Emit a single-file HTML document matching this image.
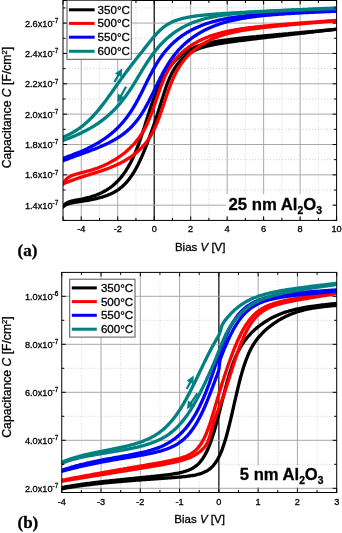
<!DOCTYPE html><html><head><meta charset="utf-8"><style>html,body{margin:0;padding:0;background:#fff;width:342px;height:533px;overflow:hidden}svg{display:block;will-change:transform}text{font-family:"Liberation Sans",sans-serif;stroke:#000;stroke-width:0.3px;paint-order:stroke}</style></head><body>
<svg width="342" height="533" viewBox="0 0 342 533">
<rect width="342" height="533" fill="#fff"/>
<defs><clipPath id="ct"><rect x="63.00" y="0.50" width="273.60" height="219.90"/></clipPath></defs>
<line x1="99.48" y1="0.50" x2="99.48" y2="220.40" stroke="#d0d0d0" stroke-width="1" stroke-dasharray="1,2"/>
<line x1="135.96" y1="0.50" x2="135.96" y2="220.40" stroke="#d0d0d0" stroke-width="1" stroke-dasharray="1,2"/>
<line x1="172.44" y1="0.50" x2="172.44" y2="220.40" stroke="#d0d0d0" stroke-width="1" stroke-dasharray="1,2"/>
<line x1="208.92" y1="0.50" x2="208.92" y2="220.40" stroke="#d0d0d0" stroke-width="1" stroke-dasharray="1,2"/>
<line x1="245.40" y1="0.50" x2="245.40" y2="220.40" stroke="#d0d0d0" stroke-width="1" stroke-dasharray="1,2"/>
<line x1="281.88" y1="0.50" x2="281.88" y2="220.40" stroke="#d0d0d0" stroke-width="1" stroke-dasharray="1,2"/>
<line x1="318.36" y1="0.50" x2="318.36" y2="220.40" stroke="#d0d0d0" stroke-width="1" stroke-dasharray="1,2"/>
<line x1="63.00" y1="220.37" x2="336.60" y2="220.37" stroke="#d0d0d0" stroke-width="1" stroke-dasharray="1,2"/>
<line x1="63.00" y1="190.02" x2="336.60" y2="190.02" stroke="#d0d0d0" stroke-width="1" stroke-dasharray="1,2"/>
<line x1="63.00" y1="159.67" x2="336.60" y2="159.67" stroke="#d0d0d0" stroke-width="1" stroke-dasharray="1,2"/>
<line x1="63.00" y1="129.32" x2="336.60" y2="129.32" stroke="#d0d0d0" stroke-width="1" stroke-dasharray="1,2"/>
<line x1="63.00" y1="98.97" x2="336.60" y2="98.97" stroke="#d0d0d0" stroke-width="1" stroke-dasharray="1,2"/>
<line x1="63.00" y1="68.62" x2="336.60" y2="68.62" stroke="#d0d0d0" stroke-width="1" stroke-dasharray="1,2"/>
<line x1="63.00" y1="38.27" x2="336.60" y2="38.27" stroke="#d0d0d0" stroke-width="1" stroke-dasharray="1,2"/>
<line x1="63.00" y1="7.92" x2="336.60" y2="7.92" stroke="#d0d0d0" stroke-width="1" stroke-dasharray="1,2"/>
<line x1="81.24" y1="0.50" x2="81.24" y2="220.40" stroke="#a8a8a8" stroke-width="1.00"/>
<line x1="117.72" y1="0.50" x2="117.72" y2="220.40" stroke="#a8a8a8" stroke-width="1.00"/>
<line x1="154.20" y1="0.50" x2="154.20" y2="220.40" stroke="#000" stroke-width="1.20"/>
<line x1="190.68" y1="0.50" x2="190.68" y2="220.40" stroke="#a8a8a8" stroke-width="1.00"/>
<line x1="227.16" y1="0.50" x2="227.16" y2="220.40" stroke="#a8a8a8" stroke-width="1.00"/>
<line x1="263.64" y1="0.50" x2="263.64" y2="220.40" stroke="#a8a8a8" stroke-width="1.00"/>
<line x1="300.12" y1="0.50" x2="300.12" y2="220.40" stroke="#a8a8a8" stroke-width="1.00"/>
<line x1="63.00" y1="205.20" x2="336.60" y2="205.20" stroke="#a8a8a8" stroke-width="1"/>
<line x1="63.00" y1="174.85" x2="336.60" y2="174.85" stroke="#a8a8a8" stroke-width="1"/>
<line x1="63.00" y1="144.50" x2="336.60" y2="144.50" stroke="#a8a8a8" stroke-width="1"/>
<line x1="63.00" y1="114.15" x2="336.60" y2="114.15" stroke="#a8a8a8" stroke-width="1"/>
<line x1="63.00" y1="83.80" x2="336.60" y2="83.80" stroke="#a8a8a8" stroke-width="1"/>
<line x1="63.00" y1="53.45" x2="336.60" y2="53.45" stroke="#a8a8a8" stroke-width="1"/>
<line x1="63.00" y1="23.10" x2="336.60" y2="23.10" stroke="#a8a8a8" stroke-width="1"/>
<g clip-path="url(#ct)" fill="none" stroke-width="3.30" stroke-linecap="round" stroke-linejoin="round">
<path d="M63.0,206.8 L63.7,205.7 L64.5,204.7 L65.4,203.8 L66.4,203.1 L67.5,202.5 L68.7,202.0 L69.9,201.6 L71.1,201.2 L72.3,201.0 L73.5,200.7 L74.7,200.5 L75.9,200.2 L77.1,200.0 L78.3,199.8 L79.5,199.5 L80.7,199.3 L81.9,199.1 L83.1,198.8 L84.3,198.5 L85.5,198.2 L86.7,198.0 L87.9,197.6 L89.1,197.3 L90.3,197.0 L91.5,196.6 L92.7,196.2 L93.9,195.9 L95.1,195.4 L96.3,195.0 L97.5,194.5 L98.7,194.0 L99.9,193.5 L101.0,193.0 L102.1,192.5 L103.2,191.9 L104.3,191.3 L105.4,190.7 L106.5,190.1 L107.6,189.4 L108.7,188.7 L109.7,188.0 L110.7,187.2 L111.7,186.5 L112.7,185.7 L113.7,184.8 L114.7,184.0 L115.6,183.1 L116.5,182.3 L117.4,181.4 L118.3,180.4 L119.2,179.4 L120.0,178.5 L120.8,177.6 L121.6,176.6 L122.4,175.6 L123.2,174.5 L124.0,173.4 L124.7,172.4 L125.4,171.4 L126.1,170.3 L126.8,169.2 L127.5,168.1 L128.2,166.9 L128.9,165.7 L129.5,164.7 L130.1,163.6 L130.7,162.4 L131.3,161.3 L131.9,160.1 L132.5,158.8 L133.1,157.6 L133.7,156.2 L134.2,155.1 L134.7,154.0 L135.2,152.8 L135.7,151.6 L136.2,150.4 L136.7,149.2 L137.2,147.9 L137.7,146.6 L138.2,145.3 L138.7,143.9 L139.2,142.5 L139.7,141.1 L140.1,140.0 L140.5,138.8 L140.9,137.7 L141.3,136.5 L141.7,135.3 L142.1,134.1 L142.5,132.9 L142.9,131.6 L143.3,130.4 L143.7,129.1 L144.1,127.9 L144.5,126.6 L144.9,125.4 L145.3,124.1 L145.7,122.8 L146.1,121.5 L146.5,120.3 L146.9,119.0 L147.3,117.7 L147.7,116.5 L148.1,115.2 L148.5,113.9 L148.9,112.7 L149.3,111.4 L149.7,110.2 L150.1,109.0 L150.5,107.8 L150.9,106.6 L151.3,105.4 L151.7,104.2 L152.1,103.1 L152.5,101.9 L153.0,100.5 L153.5,99.1 L154.0,97.8 L154.5,96.4 L155.0,95.1 L155.5,93.8 L156.0,92.6 L156.5,91.3 L157.0,90.1 L157.5,89.0 L158.0,87.8 L158.5,86.7 L159.0,85.6 L159.6,84.3 L160.2,83.0 L160.8,81.8 L161.4,80.6 L162.0,79.5 L162.6,78.3 L163.2,77.2 L163.8,76.2 L164.5,75.0 L165.2,73.8 L165.9,72.7 L166.6,71.6 L167.3,70.5 L168.0,69.5 L168.7,68.5 L169.5,67.4 L170.3,66.3 L171.1,65.3 L171.9,64.3 L172.7,63.3 L173.5,62.4 L174.4,61.4 L175.3,60.5 L176.2,59.6 L177.1,58.7 L178.0,57.9 L178.9,57.1 L179.9,56.2 L180.9,55.4 L181.9,54.6 L182.9,53.9 L183.9,53.2 L184.9,52.5 L186.0,51.8 L187.1,51.1 L188.2,50.5 L189.3,49.9 L190.4,49.3 L191.5,48.8 L192.6,48.3 L193.7,47.8 L194.9,47.3 L196.1,46.8 L197.3,46.3 L198.5,45.9 L199.7,45.5 L200.9,45.1 L202.1,44.7 L203.3,44.4 L204.5,44.1 L205.7,43.7 L206.9,43.4 L208.1,43.2 L209.3,42.9 L210.5,42.6 L211.7,42.4 L212.9,42.1 L214.1,41.9 L215.3,41.7 L216.5,41.5 L217.7,41.2 L218.9,41.0 L220.1,40.9 L221.3,40.7 L222.5,40.5 L223.7,40.3 L224.9,40.1 L226.1,40.0 L227.3,39.8 L228.5,39.7 L229.7,39.5 L230.9,39.3 L232.1,39.2 L233.3,39.1 L234.5,38.9 L235.7,38.8 L236.9,38.6 L238.1,38.5 L239.3,38.4 L240.5,38.2 L241.7,38.1 L242.9,38.0 L244.1,37.9 L245.3,37.7 L246.5,37.6 L247.7,37.5 L248.9,37.4 L250.1,37.2 L251.3,37.1 L252.5,37.0 L253.7,36.9 L254.9,36.8 L256.1,36.7 L257.3,36.5 L258.5,36.4 L259.7,36.3 L260.9,36.2 L262.1,36.1 L263.3,36.0 L264.5,35.9 L265.7,35.7 L266.9,35.6 L268.1,35.5 L269.3,35.4 L270.5,35.3 L271.7,35.2 L272.9,35.1 L274.1,35.0 L275.3,34.9 L276.5,34.7 L277.7,34.6 L278.9,34.5 L280.1,34.4 L281.3,34.3 L282.5,34.2 L283.7,34.1 L284.9,34.0 L286.1,33.9 L287.3,33.8 L288.5,33.7 L289.7,33.5 L290.9,33.4 L292.1,33.3 L293.3,33.2 L294.5,33.1 L295.7,33.0 L296.9,32.9 L298.1,32.8 L299.3,32.7 L300.5,32.6 L301.7,32.5 L302.9,32.4 L304.1,32.2 L305.3,32.1 L306.5,32.0 L307.7,31.9 L308.9,31.8 L310.1,31.7 L311.3,31.6 L312.5,31.5 L313.7,31.4 L314.9,31.3 L316.1,31.2 L317.3,31.1 L318.5,31.0 L319.7,30.8 L320.9,30.7 L322.1,30.6 L323.3,30.5 L324.5,30.4 L325.7,30.3 L326.9,30.2 L328.1,30.1 L329.3,30.0 L330.5,29.9 L331.7,29.8 L332.9,29.7 L334.1,29.6 L335.3,29.4 L336.5,29.3 L336.9,29.3" stroke="#000000"/>
<path d="M63.0,206.8 L64.0,205.9 L65.0,205.3 L66.1,204.7 L67.3,204.2 L68.5,203.7 L69.7,203.4 L70.9,203.1 L72.1,202.8 L73.3,202.6 L74.5,202.4 L75.7,202.2 L76.9,202.0 L78.1,201.8 L79.3,201.6 L80.5,201.4 L81.7,201.3 L82.9,201.1 L84.1,200.9 L85.3,200.7 L86.5,200.5 L87.7,200.3 L88.9,200.0 L90.1,199.8 L91.3,199.6 L92.5,199.4 L93.7,199.1 L94.9,198.9 L96.1,198.6 L97.3,198.3 L98.5,198.0 L99.7,197.7 L100.9,197.4 L102.1,197.1 L103.3,196.7 L104.5,196.3 L105.7,195.9 L106.9,195.5 L108.1,195.0 L109.3,194.5 L110.5,194.0 L111.6,193.5 L112.7,193.0 L113.8,192.4 L114.9,191.8 L116.0,191.1 L117.1,190.4 L118.1,189.8 L119.1,189.1 L120.1,188.3 L121.1,187.5 L122.1,186.7 L123.0,185.8 L123.9,185.0 L124.8,184.1 L125.7,183.2 L126.6,182.2 L127.4,181.3 L128.2,180.3 L129.0,179.3 L129.8,178.2 L130.6,177.1 L131.3,176.1 L132.0,175.1 L132.7,174.0 L133.4,172.9 L134.1,171.8 L134.8,170.6 L135.4,169.5 L136.0,168.5 L136.6,167.4 L137.2,166.2 L137.8,165.1 L138.4,163.9 L139.0,162.6 L139.6,161.4 L140.2,160.1 L140.8,158.8 L141.3,157.7 L141.8,156.6 L142.3,155.4 L142.8,154.3 L143.3,153.1 L143.8,151.9 L144.3,150.7 L144.8,149.4 L145.3,148.2 L145.8,146.9 L146.3,145.6 L146.8,144.3 L147.3,143.0 L147.8,141.7 L148.3,140.4 L148.8,139.0 L149.3,137.7 L149.8,136.3 L150.3,134.9 L150.8,133.5 L151.3,132.1 L151.8,130.7 L152.2,129.6 L152.6,128.4 L153.0,127.3 L153.4,126.1 L153.8,124.9 L154.2,123.8 L154.6,122.6 L155.0,121.4 L155.4,120.2 L155.8,119.0 L156.2,117.8 L156.6,116.6 L157.0,115.4 L157.4,114.1 L157.8,112.9 L158.2,111.6 L158.6,110.4 L159.0,109.1 L159.4,107.9 L159.8,106.6 L160.2,105.3 L160.6,104.0 L161.0,102.8 L161.4,101.5 L161.8,100.2 L162.2,98.9 L162.6,97.6 L163.0,96.4 L163.4,95.1 L163.8,93.9 L164.2,92.6 L164.6,91.4 L165.0,90.2 L165.4,89.0 L165.8,87.8 L166.2,86.7 L166.7,85.3 L167.2,84.0 L167.7,82.7 L168.2,81.4 L168.7,80.2 L169.2,79.0 L169.7,77.8 L170.2,76.7 L170.8,75.4 L171.4,74.2 L172.0,73.0 L172.6,71.9 L173.2,70.8 L173.9,69.6 L174.6,68.5 L175.3,67.4 L176.0,66.4 L176.7,65.4 L177.5,64.3 L178.3,63.3 L179.1,62.3 L179.9,61.4 L180.8,60.4 L181.7,59.5 L182.6,58.6 L183.5,57.8 L184.5,56.9 L185.5,56.1 L186.5,55.3 L187.5,54.5 L188.5,53.9 L189.6,53.1 L190.7,52.5 L191.8,51.9 L192.9,51.3 L194.0,50.7 L195.1,50.2 L196.2,49.7 L197.4,49.2 L198.6,48.7 L199.8,48.3 L201.0,47.9 L202.2,47.5 L203.4,47.1 L204.6,46.8 L205.8,46.5 L207.0,46.1 L208.2,45.8 L209.4,45.6 L210.6,45.3 L211.8,45.0 L213.0,44.8 L214.2,44.5 L215.4,44.3 L216.6,44.1 L217.8,43.9 L219.0,43.7 L220.2,43.5 L221.4,43.3 L222.6,43.1 L223.8,42.9 L225.0,42.7 L226.2,42.5 L227.4,42.3 L228.6,42.2 L229.8,42.0 L231.0,41.8 L232.2,41.7 L233.4,41.5 L234.6,41.3 L235.8,41.2 L237.0,41.0 L238.2,40.9 L239.4,40.7 L240.6,40.6 L241.8,40.4 L243.0,40.3 L244.2,40.1 L245.4,40.0 L246.6,39.8 L247.8,39.7 L249.0,39.5 L250.2,39.4 L251.4,39.2 L252.6,39.1 L253.8,38.9 L255.0,38.8 L256.2,38.6 L257.4,38.5 L258.6,38.4 L259.8,38.2 L261.0,38.1 L262.2,37.9 L263.4,37.8 L264.6,37.6 L265.8,37.5 L267.0,37.4 L268.2,37.2 L269.4,37.1 L270.6,36.9 L271.8,36.8 L273.0,36.6 L274.2,36.5 L275.4,36.4 L276.6,36.2 L277.8,36.1 L279.0,35.9 L280.2,35.8 L281.4,35.6 L282.6,35.5 L283.8,35.4 L285.0,35.2 L286.2,35.1 L287.4,34.9 L288.6,34.8 L289.8,34.7 L291.0,34.5 L292.2,34.4 L293.4,34.2 L294.6,34.1 L295.8,33.9 L297.0,33.8 L298.2,33.7 L299.4,33.5 L300.6,33.4 L301.8,33.2 L303.0,33.1 L304.2,33.0 L305.4,32.8 L306.6,32.7 L307.8,32.5 L309.0,32.4 L310.2,32.2 L311.4,32.1 L312.6,32.0 L313.8,31.8 L315.0,31.7 L316.2,31.5 L317.4,31.4 L318.6,31.3 L319.8,31.1 L321.0,31.0 L322.2,30.8 L323.4,30.7 L324.6,30.6 L325.8,30.4 L327.0,30.3 L328.2,30.1 L329.4,30.0 L330.6,29.8 L331.8,29.7 L333.0,29.6 L334.2,29.4 L335.4,29.3 L336.6,29.1 L336.9,29.1" stroke="#000000"/>
<path d="M63.0,184.2 L63.6,183.0 L64.3,181.9 L65.0,180.9 L65.8,179.9 L66.7,178.9 L67.6,178.1 L68.6,177.4 L69.7,176.7 L70.8,176.1 L71.9,175.6 L73.1,175.1 L74.3,174.7 L75.5,174.3 L76.7,174.0 L77.9,173.7 L79.1,173.3 L80.3,173.0 L81.5,172.7 L82.7,172.4 L83.9,172.1 L85.1,171.8 L86.3,171.5 L87.5,171.2 L88.7,170.8 L89.9,170.5 L91.1,170.1 L92.3,169.8 L93.5,169.4 L94.7,169.0 L95.9,168.6 L97.1,168.2 L98.3,167.7 L99.5,167.3 L100.7,166.8 L101.9,166.3 L103.1,165.8 L104.2,165.3 L105.3,164.8 L106.4,164.3 L107.5,163.8 L108.6,163.2 L109.7,162.6 L110.8,162.1 L111.9,161.4 L113.0,160.8 L114.1,160.2 L115.2,159.5 L116.3,158.8 L117.4,158.1 L118.4,157.4 L119.4,156.7 L120.4,156.0 L121.4,155.3 L122.4,154.5 L123.4,153.8 L124.4,153.0 L125.4,152.2 L126.4,151.3 L127.4,150.4 L128.3,149.6 L129.2,148.8 L130.1,147.9 L131.0,147.1 L131.9,146.2 L132.8,145.2 L133.7,144.3 L134.6,143.3 L135.4,142.4 L136.2,141.4 L137.0,140.4 L137.8,139.4 L138.6,138.4 L139.4,137.3 L140.1,136.3 L140.8,135.2 L141.5,134.2 L142.2,133.1 L142.9,131.9 L143.6,130.7 L144.2,129.7 L144.8,128.6 L145.4,127.4 L146.0,126.2 L146.6,125.0 L147.2,123.7 L147.8,122.4 L148.3,121.3 L148.8,120.1 L149.3,119.0 L149.8,117.7 L150.3,116.5 L150.8,115.2 L151.3,113.9 L151.8,112.6 L152.3,111.2 L152.8,109.8 L153.3,108.4 L153.7,107.3 L154.1,106.2 L154.5,105.0 L154.9,103.8 L155.3,102.7 L155.7,101.5 L156.1,100.3 L156.5,99.1 L156.9,97.9 L157.3,96.8 L157.7,95.6 L158.1,94.4 L158.5,93.3 L158.9,92.1 L159.3,91.0 L159.7,89.8 L160.2,88.4 L160.7,87.0 L161.2,85.7 L161.7,84.4 L162.2,83.1 L162.7,81.8 L163.2,80.6 L163.7,79.4 L164.2,78.2 L164.7,77.0 L165.2,75.9 L165.8,74.6 L166.4,73.4 L167.0,72.2 L167.6,71.0 L168.2,69.9 L168.8,68.8 L169.5,67.6 L170.2,66.5 L170.9,65.4 L171.6,64.3 L172.3,63.3 L173.1,62.2 L173.9,61.1 L174.7,60.1 L175.5,59.2 L176.3,58.2 L177.1,57.3 L178.0,56.4 L178.9,55.4 L179.8,54.5 L180.7,53.7 L181.6,52.8 L182.5,52.0 L183.5,51.2 L184.5,50.3 L185.5,49.5 L186.5,48.8 L187.5,48.0 L188.5,47.3 L189.5,46.6 L190.5,45.9 L191.6,45.2 L192.7,44.5 L193.8,43.8 L194.9,43.2 L196.0,42.6 L197.1,42.0 L198.2,41.4 L199.3,40.8 L200.4,40.3 L201.5,39.7 L202.6,39.2 L203.7,38.7 L204.9,38.2 L206.1,37.7 L207.3,37.2 L208.5,36.8 L209.7,36.3 L210.9,35.9 L212.1,35.5 L213.3,35.1 L214.5,34.7 L215.7,34.3 L216.9,34.0 L218.1,33.6 L219.3,33.3 L220.5,33.0 L221.7,32.7 L222.9,32.4 L224.1,32.1 L225.3,31.8 L226.5,31.5 L227.7,31.3 L228.9,31.0 L230.1,30.8 L231.3,30.5 L232.5,30.3 L233.7,30.1 L234.9,29.9 L236.1,29.7 L237.3,29.5 L238.5,29.3 L239.7,29.1 L240.9,28.9 L242.1,28.7 L243.3,28.6 L244.5,28.4 L245.7,28.2 L246.9,28.1 L248.1,27.9 L249.3,27.7 L250.5,27.6 L251.7,27.5 L252.9,27.3 L254.1,27.2 L255.3,27.0 L256.5,26.9 L257.7,26.8 L258.9,26.6 L260.1,26.5 L261.3,26.4 L262.5,26.3 L263.7,26.1 L264.9,26.0 L266.1,25.9 L267.3,25.8 L268.5,25.7 L269.7,25.6 L270.9,25.5 L272.1,25.3 L273.3,25.2 L274.5,25.1 L275.7,25.0 L276.9,24.9 L278.1,24.8 L279.3,24.7 L280.5,24.6 L281.7,24.5 L282.9,24.4 L284.1,24.3 L285.3,24.2 L286.5,24.1 L287.7,24.0 L288.9,23.9 L290.1,23.8 L291.3,23.8 L292.5,23.7 L293.7,23.6 L294.9,23.5 L296.1,23.4 L297.3,23.3 L298.5,23.2 L299.7,23.1 L300.9,23.0 L302.1,22.9 L303.3,22.8 L304.5,22.8 L305.7,22.7 L306.9,22.6 L308.1,22.5 L309.3,22.4 L310.5,22.3 L311.7,22.2 L312.9,22.1 L314.1,22.1 L315.3,22.0 L316.5,21.9 L317.7,21.8 L318.9,21.7 L320.1,21.6 L321.3,21.5 L322.5,21.4 L323.7,21.4 L324.9,21.3 L326.1,21.2 L327.3,21.1 L328.5,21.0 L329.7,20.9 L330.9,20.9 L332.1,20.8 L333.3,20.7 L334.5,20.6 L335.7,20.5 L336.9,20.4" stroke="#ff0000"/>
<path d="M63.0,183.9 L64.2,183.3 L65.4,182.8 L66.6,182.4 L67.8,181.9 L69.0,181.4 L70.2,181.0 L71.4,180.5 L72.6,180.1 L73.8,179.7 L75.0,179.2 L76.2,178.8 L77.4,178.4 L78.6,178.0 L79.8,177.6 L81.0,177.2 L82.2,176.9 L83.4,176.5 L84.6,176.1 L85.8,175.7 L87.0,175.3 L88.2,175.0 L89.4,174.6 L90.6,174.2 L91.8,173.9 L93.0,173.5 L94.2,173.1 L95.4,172.7 L96.6,172.3 L97.8,172.0 L99.0,171.6 L100.2,171.2 L101.4,170.8 L102.6,170.4 L103.8,170.0 L105.0,169.5 L106.2,169.1 L107.4,168.7 L108.6,168.2 L109.8,167.8 L111.0,167.3 L112.2,166.8 L113.4,166.3 L114.6,165.8 L115.7,165.3 L116.8,164.8 L117.9,164.3 L119.0,163.7 L120.1,163.2 L121.2,162.6 L122.3,162.1 L123.4,161.5 L124.5,160.8 L125.6,160.2 L126.7,159.5 L127.8,158.8 L128.9,158.1 L129.9,157.5 L130.9,156.8 L131.9,156.1 L132.9,155.3 L133.9,154.6 L134.9,153.8 L135.9,153.0 L136.9,152.1 L137.9,151.3 L138.8,150.4 L139.7,149.6 L140.6,148.7 L141.5,147.8 L142.4,146.8 L143.3,145.9 L144.1,144.9 L144.9,144.0 L145.7,143.0 L146.5,142.0 L147.3,140.9 L148.0,139.9 L148.7,138.9 L149.4,137.8 L150.1,136.7 L150.8,135.6 L151.5,134.4 L152.1,133.3 L152.7,132.2 L153.3,131.0 L153.9,129.8 L154.5,128.6 L155.1,127.3 L155.6,126.2 L156.1,125.1 L156.6,123.9 L157.1,122.7 L157.6,121.5 L158.1,120.2 L158.6,118.9 L159.1,117.6 L159.6,116.2 L160.1,114.8 L160.6,113.4 L161.0,112.3 L161.4,111.1 L161.8,110.0 L162.2,108.8 L162.6,107.6 L163.0,106.4 L163.4,105.2 L163.8,104.0 L164.2,102.8 L164.6,101.6 L165.0,100.4 L165.4,99.2 L165.8,98.0 L166.2,96.8 L166.6,95.6 L167.0,94.4 L167.4,93.3 L167.8,92.1 L168.2,91.0 L168.7,89.6 L169.2,88.2 L169.7,86.9 L170.2,85.5 L170.7,84.3 L171.2,83.0 L171.7,81.8 L172.2,80.6 L172.7,79.4 L173.2,78.2 L173.7,77.1 L174.3,75.9 L174.9,74.6 L175.5,73.4 L176.1,72.3 L176.7,71.1 L177.3,70.1 L177.9,69.0 L178.6,67.9 L179.3,66.7 L180.0,65.7 L180.7,64.6 L181.4,63.6 L182.2,62.5 L183.0,61.5 L183.8,60.5 L184.6,59.5 L185.4,58.5 L186.2,57.6 L187.1,56.6 L188.0,55.7 L188.9,54.8 L189.8,53.9 L190.7,53.1 L191.6,52.2 L192.5,51.4 L193.5,50.6 L194.5,49.8 L195.5,49.0 L196.5,48.2 L197.5,47.5 L198.5,46.7 L199.5,46.0 L200.5,45.4 L201.6,44.7 L202.7,44.0 L203.8,43.3 L204.9,42.7 L206.0,42.1 L207.1,41.5 L208.2,40.9 L209.3,40.4 L210.4,39.8 L211.5,39.3 L212.6,38.8 L213.8,38.3 L215.0,37.8 L216.2,37.4 L217.4,36.9 L218.6,36.5 L219.8,36.0 L221.0,35.6 L222.2,35.2 L223.4,34.9 L224.6,34.5 L225.8,34.2 L227.0,33.8 L228.2,33.5 L229.4,33.2 L230.6,32.9 L231.8,32.6 L233.0,32.3 L234.2,32.1 L235.4,31.8 L236.6,31.6 L237.8,31.3 L239.0,31.1 L240.2,30.9 L241.4,30.7 L242.6,30.4 L243.8,30.2 L245.0,30.0 L246.2,29.8 L247.4,29.7 L248.6,29.5 L249.8,29.3 L251.0,29.1 L252.2,28.9 L253.4,28.8 L254.6,28.6 L255.8,28.5 L257.0,28.3 L258.2,28.1 L259.4,28.0 L260.6,27.8 L261.8,27.7 L263.0,27.6 L264.2,27.4 L265.4,27.3 L266.6,27.1 L267.8,27.0 L269.0,26.9 L270.2,26.8 L271.4,26.6 L272.6,26.5 L273.8,26.4 L275.0,26.3 L276.2,26.1 L277.4,26.0 L278.6,25.9 L279.8,25.8 L281.0,25.7 L282.2,25.5 L283.4,25.4 L284.6,25.3 L285.8,25.2 L287.0,25.1 L288.2,25.0 L289.4,24.9 L290.6,24.7 L291.8,24.6 L293.0,24.5 L294.2,24.4 L295.4,24.3 L296.6,24.2 L297.8,24.1 L299.0,24.0 L300.2,23.9 L301.4,23.8 L302.6,23.7 L303.8,23.6 L305.0,23.4 L306.2,23.3 L307.4,23.2 L308.6,23.1 L309.8,23.0 L311.0,22.9 L312.2,22.8 L313.4,22.7 L314.6,22.6 L315.8,22.5 L317.0,22.4 L318.2,22.3 L319.4,22.2 L320.6,22.1 L321.8,22.0 L323.0,21.9 L324.2,21.8 L325.4,21.7 L326.6,21.6 L327.8,21.5 L329.0,21.4 L330.2,21.3 L331.4,21.2 L332.6,21.1 L333.8,21.0 L335.0,20.9 L336.2,20.8 L336.9,20.7" stroke="#ff0000"/>
<path d="M63.0,158.4 L64.2,157.9 L65.4,157.5 L66.6,157.0 L67.8,156.6 L69.0,156.1 L70.2,155.7 L71.4,155.2 L72.6,154.8 L73.8,154.3 L75.0,153.8 L76.2,153.3 L77.4,152.9 L78.6,152.4 L79.8,151.9 L81.0,151.4 L82.2,150.9 L83.3,150.4 L84.4,149.9 L85.5,149.4 L86.6,148.9 L87.7,148.4 L88.8,147.8 L89.9,147.3 L91.0,146.7 L92.1,146.2 L93.2,145.6 L94.3,145.0 L95.4,144.4 L96.5,143.8 L97.6,143.1 L98.7,142.5 L99.8,141.8 L100.9,141.1 L102.0,140.4 L103.1,139.7 L104.1,139.0 L105.1,138.3 L106.1,137.6 L107.1,136.9 L108.1,136.1 L109.1,135.4 L110.1,134.6 L111.1,133.8 L112.1,132.9 L113.1,132.1 L114.1,131.2 L115.0,130.4 L115.9,129.5 L116.8,128.7 L117.7,127.8 L118.6,126.9 L119.5,126.0 L120.4,125.0 L121.3,124.0 L122.1,123.1 L122.9,122.2 L123.7,121.3 L124.5,120.3 L125.3,119.3 L126.1,118.3 L126.9,117.2 L127.7,116.1 L128.5,115.0 L129.2,114.0 L129.9,113.0 L130.6,112.0 L131.3,110.9 L132.0,109.8 L132.7,108.7 L133.4,107.5 L134.1,106.4 L134.8,105.2 L135.4,104.1 L136.0,103.1 L136.6,102.0 L137.2,100.9 L137.8,99.8 L138.4,98.7 L139.0,97.5 L139.6,96.4 L140.2,95.2 L140.8,94.1 L141.4,92.9 L142.0,91.7 L142.6,90.5 L143.2,89.3 L143.8,88.1 L144.4,86.9 L145.0,85.6 L145.6,84.4 L146.2,83.2 L146.8,82.0 L147.4,80.8 L148.0,79.6 L148.6,78.4 L149.2,77.2 L149.8,76.0 L150.4,74.9 L151.0,73.7 L151.6,72.6 L152.2,71.4 L152.8,70.3 L153.4,69.2 L154.0,68.2 L154.6,67.1 L155.2,66.1 L155.9,64.9 L156.6,63.7 L157.3,62.6 L158.0,61.4 L158.7,60.4 L159.4,59.3 L160.1,58.3 L160.8,57.2 L161.5,56.2 L162.3,55.1 L163.1,54.1 L163.9,53.0 L164.7,52.0 L165.5,51.0 L166.3,50.1 L167.1,49.2 L167.9,48.3 L168.8,47.3 L169.7,46.3 L170.6,45.4 L171.5,44.5 L172.4,43.7 L173.3,42.8 L174.2,42.0 L175.2,41.1 L176.2,40.3 L177.2,39.4 L178.2,38.6 L179.2,37.9 L180.2,37.1 L181.2,36.4 L182.2,35.7 L183.2,35.0 L184.2,34.3 L185.3,33.6 L186.4,32.9 L187.5,32.3 L188.6,31.6 L189.7,31.0 L190.8,30.4 L191.9,29.8 L193.0,29.3 L194.1,28.7 L195.2,28.2 L196.3,27.7 L197.4,27.2 L198.6,26.7 L199.8,26.2 L201.0,25.7 L202.2,25.2 L203.4,24.8 L204.6,24.3 L205.8,23.9 L207.0,23.5 L208.2,23.1 L209.4,22.7 L210.6,22.4 L211.8,22.0 L213.0,21.7 L214.2,21.4 L215.4,21.1 L216.6,20.7 L217.8,20.5 L219.0,20.2 L220.2,19.9 L221.4,19.6 L222.6,19.4 L223.8,19.1 L225.0,18.9 L226.2,18.7 L227.4,18.4 L228.6,18.2 L229.8,18.0 L231.0,17.8 L232.2,17.6 L233.4,17.5 L234.6,17.3 L235.8,17.1 L237.0,16.9 L238.2,16.8 L239.4,16.6 L240.6,16.5 L241.8,16.3 L243.0,16.2 L244.2,16.0 L245.4,15.9 L246.6,15.7 L247.8,15.6 L249.0,15.5 L250.2,15.4 L251.4,15.3 L252.6,15.1 L253.8,15.0 L255.0,14.9 L256.2,14.8 L257.4,14.7 L258.6,14.6 L259.8,14.5 L261.0,14.4 L262.2,14.3 L263.4,14.2 L264.6,14.1 L265.8,14.1 L267.0,14.0 L268.2,13.9 L269.4,13.8 L270.6,13.7 L271.8,13.6 L273.0,13.6 L274.2,13.5 L275.4,13.4 L276.6,13.3 L277.8,13.3 L279.0,13.2 L280.2,13.1 L281.4,13.1 L282.6,13.0 L283.8,12.9 L285.0,12.9 L286.2,12.8 L287.4,12.7 L288.6,12.7 L289.8,12.6 L291.0,12.5 L292.2,12.5 L293.4,12.4 L294.6,12.4 L295.8,12.3 L297.0,12.2 L298.2,12.2 L299.4,12.1 L300.6,12.1 L301.8,12.0 L303.0,12.0 L304.2,11.9 L305.4,11.9 L306.6,11.8 L307.8,11.7 L309.0,11.7 L310.2,11.6 L311.4,11.6 L312.6,11.5 L313.8,11.5 L315.0,11.4 L316.2,11.4 L317.4,11.3 L318.6,11.3 L319.8,11.2 L321.0,11.2 L322.2,11.1 L323.4,11.1 L324.6,11.0 L325.8,11.0 L327.0,10.9 L328.2,10.9 L329.4,10.8 L330.6,10.8 L331.8,10.7 L333.0,10.7 L334.2,10.6 L335.4,10.6 L336.6,10.5 L336.9,10.5" stroke="#0000ff"/>
<path d="M63.0,160.8 L64.2,160.3 L65.4,159.8 L66.6,159.4 L67.8,158.9 L69.0,158.4 L70.2,158.0 L71.4,157.5 L72.6,157.1 L73.8,156.7 L75.0,156.2 L76.2,155.8 L77.4,155.4 L78.6,154.9 L79.8,154.5 L81.0,154.1 L82.2,153.6 L83.4,153.2 L84.6,152.8 L85.8,152.3 L87.0,151.9 L88.2,151.4 L89.4,151.0 L90.6,150.6 L91.8,150.1 L93.0,149.6 L94.2,149.2 L95.4,148.7 L96.6,148.2 L97.8,147.8 L99.0,147.3 L100.2,146.8 L101.4,146.2 L102.6,145.7 L103.7,145.2 L104.8,144.7 L105.9,144.2 L107.0,143.7 L108.1,143.2 L109.2,142.6 L110.3,142.1 L111.4,141.5 L112.5,140.9 L113.6,140.3 L114.7,139.7 L115.8,139.0 L116.9,138.4 L118.0,137.7 L119.1,137.0 L120.1,136.3 L121.1,135.6 L122.1,134.9 L123.1,134.2 L124.1,133.4 L125.1,132.6 L126.1,131.8 L127.1,130.9 L128.1,130.1 L129.0,129.2 L129.9,128.4 L130.8,127.5 L131.7,126.6 L132.6,125.6 L133.5,124.6 L134.3,123.7 L135.1,122.8 L135.9,121.8 L136.7,120.8 L137.5,119.8 L138.3,118.7 L139.1,117.6 L139.8,116.6 L140.5,115.5 L141.2,114.5 L141.9,113.4 L142.6,112.3 L143.3,111.1 L144.0,110.0 L144.7,108.8 L145.3,107.7 L145.9,106.7 L146.5,105.6 L147.1,104.5 L147.7,103.4 L148.3,102.2 L148.9,101.1 L149.5,99.9 L150.1,98.7 L150.7,97.5 L151.3,96.3 L151.9,95.1 L152.5,93.9 L153.1,92.7 L153.7,91.4 L154.3,90.2 L154.9,89.0 L155.5,87.7 L156.1,86.5 L156.7,85.3 L157.3,84.0 L157.9,82.8 L158.5,81.6 L159.1,80.4 L159.7,79.2 L160.3,78.0 L160.9,76.8 L161.5,75.7 L162.1,74.5 L162.7,73.4 L163.3,72.3 L163.9,71.2 L164.5,70.1 L165.1,69.1 L165.7,68.0 L166.4,66.8 L167.1,65.7 L167.8,64.5 L168.5,63.4 L169.2,62.3 L169.9,61.3 L170.6,60.2 L171.3,59.2 L172.0,58.2 L172.8,57.1 L173.6,56.1 L174.4,55.0 L175.2,54.0 L176.0,53.0 L176.8,52.1 L177.6,51.1 L178.4,50.2 L179.3,49.2 L180.2,48.3 L181.1,47.4 L182.0,46.5 L182.9,45.6 L183.8,44.7 L184.7,43.9 L185.6,43.1 L186.6,42.2 L187.6,41.4 L188.6,40.6 L189.6,39.8 L190.6,39.0 L191.6,38.3 L192.6,37.5 L193.6,36.8 L194.6,36.1 L195.6,35.5 L196.7,34.8 L197.8,34.1 L198.9,33.4 L200.0,32.8 L201.1,32.1 L202.2,31.5 L203.3,30.9 L204.4,30.3 L205.5,29.8 L206.6,29.2 L207.7,28.7 L208.8,28.2 L209.9,27.7 L211.1,27.2 L212.3,26.7 L213.5,26.2 L214.7,25.7 L215.9,25.3 L217.1,24.9 L218.3,24.4 L219.5,24.0 L220.7,23.6 L221.9,23.2 L223.1,22.9 L224.3,22.5 L225.5,22.2 L226.7,21.8 L227.9,21.5 L229.1,21.2 L230.3,20.9 L231.5,20.6 L232.7,20.3 L233.9,20.1 L235.1,19.8 L236.3,19.6 L237.5,19.3 L238.7,19.1 L239.9,18.8 L241.1,18.6 L242.3,18.4 L243.5,18.2 L244.7,18.0 L245.9,17.8 L247.1,17.6 L248.3,17.4 L249.5,17.3 L250.7,17.1 L251.9,16.9 L253.1,16.8 L254.3,16.6 L255.5,16.5 L256.7,16.3 L257.9,16.2 L259.1,16.1 L260.3,15.9 L261.5,15.8 L262.7,15.7 L263.9,15.5 L265.1,15.4 L266.3,15.3 L267.5,15.2 L268.7,15.1 L269.9,15.0 L271.1,14.9 L272.3,14.8 L273.5,14.7 L274.7,14.6 L275.9,14.5 L277.1,14.4 L278.3,14.3 L279.5,14.2 L280.7,14.1 L281.9,14.0 L283.1,14.0 L284.3,13.9 L285.5,13.8 L286.7,13.7 L287.9,13.6 L289.1,13.6 L290.3,13.5 L291.5,13.4 L292.7,13.3 L293.9,13.3 L295.1,13.2 L296.3,13.1 L297.5,13.1 L298.7,13.0 L299.9,12.9 L301.1,12.9 L302.3,12.8 L303.5,12.7 L304.7,12.7 L305.9,12.6 L307.1,12.6 L308.3,12.5 L309.5,12.4 L310.7,12.4 L311.9,12.3 L313.1,12.3 L314.3,12.2 L315.5,12.2 L316.7,12.1 L317.9,12.0 L319.1,12.0 L320.3,11.9 L321.5,11.9 L322.7,11.8 L323.9,11.8 L325.1,11.7 L326.3,11.7 L327.5,11.6 L328.7,11.6 L329.9,11.5 L331.1,11.4 L332.3,11.4 L333.5,11.3 L334.7,11.3 L335.9,11.2 L336.9,11.2" stroke="#0000ff"/>
<path d="M63.0,137.5 L64.0,136.7 L65.1,136.2 L66.3,135.7 L67.4,135.2 L68.5,134.7 L69.6,134.2 L70.7,133.6 L71.8,133.0 L72.9,132.4 L74.0,131.8 L75.1,131.1 L76.2,130.4 L77.3,129.7 L78.3,129.0 L79.3,128.3 L80.3,127.6 L81.3,126.8 L82.3,126.1 L83.3,125.3 L84.3,124.5 L85.3,123.6 L86.3,122.7 L87.2,121.9 L88.1,121.1 L89.0,120.2 L89.9,119.3 L90.8,118.4 L91.7,117.5 L92.6,116.6 L93.5,115.6 L94.4,114.6 L95.3,113.6 L96.1,112.7 L96.9,111.8 L97.7,110.8 L98.5,109.9 L99.3,108.9 L100.1,107.9 L100.9,106.9 L101.7,105.9 L102.5,104.9 L103.3,103.9 L104.1,102.8 L104.9,101.7 L105.7,100.7 L106.5,99.6 L107.3,98.5 L108.1,97.4 L108.9,96.3 L109.7,95.2 L110.4,94.2 L111.1,93.2 L111.8,92.3 L112.5,91.3 L113.2,90.3 L113.9,89.3 L114.6,88.3 L115.3,87.3 L116.0,86.3 L116.7,85.3 L117.4,84.3 L118.1,83.3 L118.8,82.4 L119.5,81.4 L120.2,80.4 L120.9,79.4 L121.6,78.4 L122.4,77.3 L123.2,76.2 L124.0,75.1 L124.8,74.0 L125.6,72.9 L126.4,71.8 L127.2,70.8 L128.0,69.7 L128.8,68.6 L129.6,67.6 L130.4,66.5 L131.2,65.5 L132.0,64.4 L132.8,63.4 L133.6,62.4 L134.4,61.3 L135.2,60.3 L136.0,59.3 L136.8,58.3 L137.6,57.2 L138.4,56.2 L139.2,55.2 L140.0,54.2 L140.8,53.2 L141.6,52.2 L142.4,51.2 L143.2,50.1 L144.0,49.1 L144.8,48.1 L145.6,47.1 L146.4,46.1 L147.2,45.1 L148.0,44.0 L148.8,43.0 L149.6,42.0 L150.4,41.0 L151.2,40.0 L152.0,39.1 L152.8,38.1 L153.6,37.1 L154.4,36.2 L155.2,35.3 L156.1,34.3 L157.0,33.3 L157.9,32.4 L158.8,31.5 L159.7,30.6 L160.6,29.8 L161.5,29.0 L162.5,28.1 L163.5,27.3 L164.5,26.5 L165.5,25.8 L166.5,25.1 L167.6,24.4 L168.7,23.8 L169.8,23.2 L170.9,22.6 L172.0,22.1 L173.1,21.6 L174.3,21.1 L175.5,20.6 L176.7,20.2 L177.9,19.8 L179.1,19.4 L180.3,19.1 L181.5,18.7 L182.7,18.4 L183.9,18.1 L185.1,17.9 L186.3,17.6 L187.5,17.4 L188.7,17.2 L189.9,17.0 L191.1,16.7 L192.3,16.6 L193.5,16.4 L194.7,16.2 L195.9,16.0 L197.1,15.9 L198.3,15.7 L199.5,15.6 L200.7,15.4 L201.9,15.3 L203.1,15.2 L204.3,15.1 L205.5,14.9 L206.7,14.8 L207.9,14.7 L209.1,14.6 L210.3,14.5 L211.5,14.4 L212.7,14.3 L213.9,14.2 L215.1,14.1 L216.3,14.0 L217.5,13.9 L218.7,13.8 L219.9,13.8 L221.1,13.7 L222.3,13.6 L223.5,13.5 L224.7,13.4 L225.9,13.4 L227.1,13.3 L228.3,13.2 L229.5,13.1 L230.7,13.1 L231.9,13.0 L233.1,12.9 L234.3,12.9 L235.5,12.8 L236.7,12.7 L237.9,12.7 L239.1,12.6 L240.3,12.5 L241.5,12.5 L242.7,12.4 L243.9,12.3 L245.1,12.3 L246.3,12.2 L247.5,12.1 L248.7,12.1 L249.9,12.0 L251.1,12.0 L252.3,11.9 L253.5,11.8 L254.7,11.8 L255.9,11.7 L257.1,11.7 L258.3,11.6 L259.5,11.5 L260.7,11.5 L261.9,11.4 L263.1,11.4 L264.3,11.3 L265.5,11.3 L266.7,11.2 L267.9,11.1 L269.1,11.1 L270.3,11.0 L271.5,11.0 L272.7,10.9 L273.9,10.9 L275.1,10.8 L276.3,10.7 L277.5,10.7 L278.7,10.6 L279.9,10.6 L281.1,10.5 L282.3,10.5 L283.5,10.4 L284.7,10.4 L285.9,10.3 L287.1,10.2 L288.3,10.2 L289.5,10.1 L290.7,10.1 L291.9,10.0 L293.1,10.0 L294.3,9.9 L295.5,9.8 L296.7,9.8 L297.9,9.7 L299.1,9.7 L300.3,9.6 L301.5,9.6 L302.7,9.5 L303.9,9.5 L305.1,9.4 L306.3,9.4 L307.5,9.3 L308.7,9.2 L309.9,9.2 L311.1,9.1 L312.3,9.1 L313.5,9.0 L314.7,9.0 L315.9,8.9 L317.1,8.9 L318.3,8.8 L319.5,8.7 L320.7,8.7 L321.9,8.6 L323.1,8.6 L324.3,8.5 L325.5,8.5 L326.7,8.4 L327.9,8.4 L329.1,8.3 L330.3,8.3 L331.5,8.2 L332.7,8.1 L333.9,8.1 L335.1,8.0 L336.3,8.0 L336.9,7.9" stroke="#008080"/>
<path d="M63.0,140.5 L64.2,140.0 L65.4,139.6 L66.6,139.1 L67.8,138.6 L69.0,138.2 L70.2,137.7 L71.4,137.2 L72.6,136.7 L73.8,136.2 L75.0,135.7 L76.2,135.2 L77.3,134.7 L78.4,134.2 L79.5,133.7 L80.6,133.2 L81.7,132.7 L82.8,132.1 L83.9,131.6 L85.0,131.1 L86.1,130.5 L87.2,129.9 L88.3,129.3 L89.4,128.7 L90.5,128.1 L91.6,127.4 L92.7,126.8 L93.8,126.1 L94.9,125.4 L96.0,124.7 L97.1,124.0 L98.1,123.3 L99.1,122.6 L100.1,121.9 L101.1,121.2 L102.1,120.4 L103.1,119.7 L104.1,118.9 L105.1,118.1 L106.1,117.3 L107.1,116.4 L108.1,115.6 L109.0,114.8 L109.9,113.9 L110.8,113.1 L111.7,112.3 L112.6,111.4 L113.5,110.5 L114.4,109.6 L115.3,108.6 L116.2,107.7 L117.1,106.7 L118.0,105.7 L118.8,104.8 L119.6,103.9 L120.4,102.9 L121.2,101.9 L122.0,101.0 L122.8,99.9 L123.6,98.9 L124.4,97.9 L125.2,96.8 L126.0,95.7 L126.8,94.6 L127.5,93.6 L128.2,92.6 L128.9,91.6 L129.6,90.6 L130.3,89.5 L131.0,88.4 L131.7,87.4 L132.4,86.3 L133.1,85.2 L133.8,84.1 L134.5,82.9 L135.2,81.8 L135.9,80.7 L136.6,79.5 L137.3,78.4 L138.0,77.2 L138.7,76.0 L139.4,74.9 L140.1,73.7 L140.8,72.6 L141.5,71.4 L142.2,70.2 L142.9,69.1 L143.6,68.0 L144.3,66.8 L145.0,65.7 L145.7,64.6 L146.4,63.5 L147.1,62.4 L147.8,61.3 L148.5,60.3 L149.2,59.2 L149.9,58.2 L150.6,57.2 L151.3,56.2 L152.0,55.2 L152.8,54.1 L153.6,53.1 L154.4,52.0 L155.2,51.0 L156.0,50.0 L156.8,49.0 L157.6,48.1 L158.4,47.1 L159.2,46.2 L160.1,45.2 L161.0,44.2 L161.9,43.3 L162.8,42.4 L163.7,41.5 L164.6,40.6 L165.5,39.8 L166.4,38.9 L167.3,38.1 L168.3,37.3 L169.3,36.4 L170.3,35.6 L171.3,34.8 L172.3,34.1 L173.3,33.3 L174.3,32.6 L175.3,31.9 L176.3,31.2 L177.4,30.5 L178.5,29.8 L179.6,29.1 L180.7,28.5 L181.8,27.8 L182.9,27.2 L184.0,26.7 L185.1,26.1 L186.2,25.6 L187.3,25.0 L188.4,24.5 L189.5,24.0 L190.7,23.5 L191.9,23.0 L193.1,22.5 L194.3,22.1 L195.5,21.6 L196.7,21.2 L197.9,20.8 L199.1,20.4 L200.3,20.1 L201.5,19.7 L202.7,19.4 L203.9,19.0 L205.1,18.7 L206.3,18.4 L207.5,18.1 L208.7,17.8 L209.9,17.5 L211.1,17.3 L212.3,17.0 L213.5,16.8 L214.7,16.6 L215.9,16.3 L217.1,16.1 L218.3,15.9 L219.5,15.7 L220.7,15.5 L221.9,15.3 L223.1,15.2 L224.3,15.0 L225.5,14.8 L226.7,14.7 L227.9,14.5 L229.1,14.4 L230.3,14.2 L231.5,14.1 L232.7,13.9 L233.9,13.8 L235.1,13.7 L236.3,13.6 L237.5,13.4 L238.7,13.3 L239.9,13.2 L241.1,13.1 L242.3,13.0 L243.5,12.9 L244.7,12.8 L245.9,12.7 L247.1,12.6 L248.3,12.5 L249.5,12.4 L250.7,12.3 L251.9,12.3 L253.1,12.2 L254.3,12.1 L255.5,12.0 L256.7,11.9 L257.9,11.9 L259.1,11.8 L260.3,11.7 L261.5,11.7 L262.7,11.6 L263.9,11.5 L265.1,11.5 L266.3,11.4 L267.5,11.3 L268.7,11.3 L269.9,11.2 L271.1,11.1 L272.3,11.1 L273.5,11.0 L274.7,11.0 L275.9,10.9 L277.1,10.8 L278.3,10.8 L279.5,10.7 L280.7,10.7 L281.9,10.6 L283.1,10.6 L284.3,10.5 L285.5,10.5 L286.7,10.4 L287.9,10.4 L289.1,10.3 L290.3,10.3 L291.5,10.2 L292.7,10.2 L293.9,10.1 L295.1,10.1 L296.3,10.0 L297.5,10.0 L298.7,9.9 L299.9,9.9 L301.1,9.8 L302.3,9.8 L303.5,9.7 L304.7,9.7 L305.9,9.6 L307.1,9.6 L308.3,9.5 L309.5,9.5 L310.7,9.5 L311.9,9.4 L313.1,9.4 L314.3,9.3 L315.5,9.3 L316.7,9.2 L317.9,9.2 L319.1,9.1 L320.3,9.1 L321.5,9.0 L322.7,9.0 L323.9,9.0 L325.1,8.9 L326.3,8.9 L327.5,8.8 L328.7,8.8 L329.9,8.7 L331.1,8.7 L332.3,8.6 L333.5,8.6 L334.7,8.6 L335.9,8.5 L336.9,8.5" stroke="#008080"/>
</g>
<line x1="114.40" y1="82.00" x2="118.76" y2="74.54" stroke="#008080" stroke-width="2.20"/><polygon points="122.30,68.50 121.54,77.32 114.98,73.49" fill="#008080"/>
<line x1="126.10" y1="86.70" x2="120.62" y2="96.49" stroke="#008080" stroke-width="2.20"/><polygon points="117.20,102.60 117.79,93.76 124.42,97.48" fill="#008080"/>
<rect x="226.00" y="194.30" width="107.00" height="22.20" fill="#fff"/>
<text x="228.50" y="210.20" font-size="16.70" font-weight="bold" fill="#000">25 nm Al<tspan font-size="10.35" dy="4">2</tspan><tspan dy="-4">O</tspan><tspan font-size="10.35" dy="4">3</tspan></text>
<line x1="81.24" y1="220.40" x2="81.24" y2="216.40" stroke="#000" stroke-width="1"/>
<line x1="81.24" y1="0.50" x2="81.24" y2="4.50" stroke="#000" stroke-width="1"/>
<line x1="117.72" y1="220.40" x2="117.72" y2="216.40" stroke="#000" stroke-width="1"/>
<line x1="117.72" y1="0.50" x2="117.72" y2="4.50" stroke="#000" stroke-width="1"/>
<line x1="154.20" y1="220.40" x2="154.20" y2="216.40" stroke="#000" stroke-width="1"/>
<line x1="154.20" y1="0.50" x2="154.20" y2="4.50" stroke="#000" stroke-width="1"/>
<line x1="190.68" y1="220.40" x2="190.68" y2="216.40" stroke="#000" stroke-width="1"/>
<line x1="190.68" y1="0.50" x2="190.68" y2="4.50" stroke="#000" stroke-width="1"/>
<line x1="227.16" y1="220.40" x2="227.16" y2="216.40" stroke="#000" stroke-width="1"/>
<line x1="227.16" y1="0.50" x2="227.16" y2="4.50" stroke="#000" stroke-width="1"/>
<line x1="263.64" y1="220.40" x2="263.64" y2="216.40" stroke="#000" stroke-width="1"/>
<line x1="263.64" y1="0.50" x2="263.64" y2="4.50" stroke="#000" stroke-width="1"/>
<line x1="300.12" y1="220.40" x2="300.12" y2="216.40" stroke="#000" stroke-width="1"/>
<line x1="300.12" y1="0.50" x2="300.12" y2="4.50" stroke="#000" stroke-width="1"/>
<line x1="63.00" y1="220.40" x2="63.00" y2="216.40" stroke="#000" stroke-width="1"/>
<line x1="63.00" y1="0.50" x2="63.00" y2="4.50" stroke="#000" stroke-width="1"/>
<line x1="336.60" y1="220.40" x2="336.60" y2="216.40" stroke="#000" stroke-width="1"/>
<line x1="336.60" y1="0.50" x2="336.60" y2="4.50" stroke="#000" stroke-width="1"/>
<line x1="99.48" y1="220.40" x2="99.48" y2="217.90" stroke="#000" stroke-width="1"/>
<line x1="99.48" y1="0.50" x2="99.48" y2="3.00" stroke="#000" stroke-width="1"/>
<line x1="135.96" y1="220.40" x2="135.96" y2="217.90" stroke="#000" stroke-width="1"/>
<line x1="135.96" y1="0.50" x2="135.96" y2="3.00" stroke="#000" stroke-width="1"/>
<line x1="172.44" y1="220.40" x2="172.44" y2="217.90" stroke="#000" stroke-width="1"/>
<line x1="172.44" y1="0.50" x2="172.44" y2="3.00" stroke="#000" stroke-width="1"/>
<line x1="208.92" y1="220.40" x2="208.92" y2="217.90" stroke="#000" stroke-width="1"/>
<line x1="208.92" y1="0.50" x2="208.92" y2="3.00" stroke="#000" stroke-width="1"/>
<line x1="245.40" y1="220.40" x2="245.40" y2="217.90" stroke="#000" stroke-width="1"/>
<line x1="245.40" y1="0.50" x2="245.40" y2="3.00" stroke="#000" stroke-width="1"/>
<line x1="281.88" y1="220.40" x2="281.88" y2="217.90" stroke="#000" stroke-width="1"/>
<line x1="281.88" y1="0.50" x2="281.88" y2="3.00" stroke="#000" stroke-width="1"/>
<line x1="318.36" y1="220.40" x2="318.36" y2="217.90" stroke="#000" stroke-width="1"/>
<line x1="318.36" y1="0.50" x2="318.36" y2="3.00" stroke="#000" stroke-width="1"/>
<line x1="63.00" y1="205.20" x2="67.00" y2="205.20" stroke="#000" stroke-width="1"/>
<line x1="336.60" y1="205.20" x2="332.60" y2="205.20" stroke="#000" stroke-width="1"/>
<line x1="63.00" y1="174.85" x2="67.00" y2="174.85" stroke="#000" stroke-width="1"/>
<line x1="336.60" y1="174.85" x2="332.60" y2="174.85" stroke="#000" stroke-width="1"/>
<line x1="63.00" y1="144.50" x2="67.00" y2="144.50" stroke="#000" stroke-width="1"/>
<line x1="336.60" y1="144.50" x2="332.60" y2="144.50" stroke="#000" stroke-width="1"/>
<line x1="63.00" y1="114.15" x2="67.00" y2="114.15" stroke="#000" stroke-width="1"/>
<line x1="336.60" y1="114.15" x2="332.60" y2="114.15" stroke="#000" stroke-width="1"/>
<line x1="63.00" y1="83.80" x2="67.00" y2="83.80" stroke="#000" stroke-width="1"/>
<line x1="336.60" y1="83.80" x2="332.60" y2="83.80" stroke="#000" stroke-width="1"/>
<line x1="63.00" y1="53.45" x2="67.00" y2="53.45" stroke="#000" stroke-width="1"/>
<line x1="336.60" y1="53.45" x2="332.60" y2="53.45" stroke="#000" stroke-width="1"/>
<line x1="63.00" y1="23.10" x2="67.00" y2="23.10" stroke="#000" stroke-width="1"/>
<line x1="336.60" y1="23.10" x2="332.60" y2="23.10" stroke="#000" stroke-width="1"/>
<line x1="63.00" y1="220.37" x2="65.50" y2="220.37" stroke="#000" stroke-width="1"/>
<line x1="336.60" y1="220.37" x2="334.10" y2="220.37" stroke="#000" stroke-width="1"/>
<line x1="63.00" y1="190.02" x2="65.50" y2="190.02" stroke="#000" stroke-width="1"/>
<line x1="336.60" y1="190.02" x2="334.10" y2="190.02" stroke="#000" stroke-width="1"/>
<line x1="63.00" y1="159.67" x2="65.50" y2="159.67" stroke="#000" stroke-width="1"/>
<line x1="336.60" y1="159.67" x2="334.10" y2="159.67" stroke="#000" stroke-width="1"/>
<line x1="63.00" y1="129.32" x2="65.50" y2="129.32" stroke="#000" stroke-width="1"/>
<line x1="336.60" y1="129.32" x2="334.10" y2="129.32" stroke="#000" stroke-width="1"/>
<line x1="63.00" y1="98.97" x2="65.50" y2="98.97" stroke="#000" stroke-width="1"/>
<line x1="336.60" y1="98.97" x2="334.10" y2="98.97" stroke="#000" stroke-width="1"/>
<line x1="63.00" y1="68.62" x2="65.50" y2="68.62" stroke="#000" stroke-width="1"/>
<line x1="336.60" y1="68.62" x2="334.10" y2="68.62" stroke="#000" stroke-width="1"/>
<line x1="63.00" y1="38.27" x2="65.50" y2="38.27" stroke="#000" stroke-width="1"/>
<line x1="336.60" y1="38.27" x2="334.10" y2="38.27" stroke="#000" stroke-width="1"/>
<line x1="63.00" y1="7.92" x2="65.50" y2="7.92" stroke="#000" stroke-width="1"/>
<line x1="336.60" y1="7.92" x2="334.10" y2="7.92" stroke="#000" stroke-width="1"/>
<rect x="63.00" y="0.50" width="273.60" height="219.90" fill="none" stroke="#000" stroke-width="1.00"/>
<rect x="67.00" y="0.50" width="64.30" height="58.80" fill="#fff" stroke="#555" stroke-width="1"/>
<line x1="68.90" y1="9.80" x2="94.60" y2="9.80" stroke="#000000" stroke-width="3"/>
<text x="97.60" y="13.80" font-size="11.60" fill="#000">350°C</text>
<line x1="68.90" y1="23.40" x2="94.60" y2="23.40" stroke="#ff0000" stroke-width="3"/>
<text x="97.60" y="27.40" font-size="11.60" fill="#000">500°C</text>
<line x1="68.90" y1="37.20" x2="94.60" y2="37.20" stroke="#0000ff" stroke-width="3"/>
<text x="97.60" y="41.20" font-size="11.60" fill="#000">550°C</text>
<line x1="68.90" y1="51.30" x2="94.60" y2="51.30" stroke="#008080" stroke-width="3"/>
<text x="97.60" y="55.30" font-size="11.60" fill="#000">600°C</text>
<text x="81.24" y="232.20" font-size="9.20" text-anchor="middle" fill="#000">-4</text>
<text x="117.72" y="232.20" font-size="9.20" text-anchor="middle" fill="#000">-2</text>
<text x="154.20" y="232.20" font-size="9.20" text-anchor="middle" fill="#000">0</text>
<text x="190.68" y="232.20" font-size="9.20" text-anchor="middle" fill="#000">2</text>
<text x="227.16" y="232.20" font-size="9.20" text-anchor="middle" fill="#000">4</text>
<text x="263.64" y="232.20" font-size="9.20" text-anchor="middle" fill="#000">6</text>
<text x="300.12" y="232.20" font-size="9.20" text-anchor="middle" fill="#000">8</text>
<text x="336.60" y="232.20" font-size="9.20" text-anchor="middle" fill="#000">10</text>
<text x="58.30" y="208.60" font-size="9.20" text-anchor="end" fill="#000">1.4x10<tspan font-size="6.50" dy="-3.5">-7</tspan></text>
<text x="58.30" y="178.25" font-size="9.20" text-anchor="end" fill="#000">1.6x10<tspan font-size="6.50" dy="-3.5">-7</tspan></text>
<text x="58.30" y="147.90" font-size="9.20" text-anchor="end" fill="#000">1.8x10<tspan font-size="6.50" dy="-3.5">-7</tspan></text>
<text x="58.30" y="117.55" font-size="9.20" text-anchor="end" fill="#000">2.0x10<tspan font-size="6.50" dy="-3.5">-7</tspan></text>
<text x="58.30" y="87.20" font-size="9.20" text-anchor="end" fill="#000">2.2x10<tspan font-size="6.50" dy="-3.5">-7</tspan></text>
<text x="58.30" y="56.85" font-size="9.20" text-anchor="end" fill="#000">2.4x10<tspan font-size="6.50" dy="-3.5">-7</tspan></text>
<text x="58.30" y="26.50" font-size="9.20" text-anchor="end" fill="#000">2.6x10<tspan font-size="6.50" dy="-3.5">-7</tspan></text>
<text transform="translate(11.40,107.60) rotate(-90)" font-size="12.2" text-anchor="middle" fill="#000">Capacitance <tspan font-style="italic">C</tspan> [F/cm<tspan font-size="7.5" dy="-4">2</tspan><tspan dy="4">]</tspan></text>
<text x="200.20" y="250.60" font-size="11.5" text-anchor="middle" fill="#000">Bias <tspan font-style="italic">V</tspan> [V]</text>
<text x="17.50" y="256.00" font-size="17" font-weight="bold" style="font-family:'Liberation Serif',serif" fill="#000">(a)</text>
<defs><clipPath id="cb"><rect x="61.75" y="272.40" width="274.95" height="220.10"/></clipPath></defs>
<line x1="81.39" y1="272.40" x2="81.39" y2="492.50" stroke="#d0d0d0" stroke-width="1" stroke-dasharray="1,2"/>
<line x1="120.67" y1="272.40" x2="120.67" y2="492.50" stroke="#d0d0d0" stroke-width="1" stroke-dasharray="1,2"/>
<line x1="159.95" y1="272.40" x2="159.95" y2="492.50" stroke="#d0d0d0" stroke-width="1" stroke-dasharray="1,2"/>
<line x1="199.23" y1="272.40" x2="199.23" y2="492.50" stroke="#d0d0d0" stroke-width="1" stroke-dasharray="1,2"/>
<line x1="238.51" y1="272.40" x2="238.51" y2="492.50" stroke="#d0d0d0" stroke-width="1" stroke-dasharray="1,2"/>
<line x1="277.79" y1="272.40" x2="277.79" y2="492.50" stroke="#d0d0d0" stroke-width="1" stroke-dasharray="1,2"/>
<line x1="317.07" y1="272.40" x2="317.07" y2="492.50" stroke="#d0d0d0" stroke-width="1" stroke-dasharray="1,2"/>
<line x1="61.75" y1="464.30" x2="336.70" y2="464.30" stroke="#d0d0d0" stroke-width="1" stroke-dasharray="1,2"/>
<line x1="61.75" y1="416.30" x2="336.70" y2="416.30" stroke="#d0d0d0" stroke-width="1" stroke-dasharray="1,2"/>
<line x1="61.75" y1="368.30" x2="336.70" y2="368.30" stroke="#d0d0d0" stroke-width="1" stroke-dasharray="1,2"/>
<line x1="61.75" y1="320.30" x2="336.70" y2="320.30" stroke="#d0d0d0" stroke-width="1" stroke-dasharray="1,2"/>
<line x1="101.03" y1="272.40" x2="101.03" y2="492.50" stroke="#a8a8a8" stroke-width="1.00"/>
<line x1="140.31" y1="272.40" x2="140.31" y2="492.50" stroke="#a8a8a8" stroke-width="1.00"/>
<line x1="179.59" y1="272.40" x2="179.59" y2="492.50" stroke="#a8a8a8" stroke-width="1.00"/>
<line x1="218.87" y1="272.40" x2="218.87" y2="492.50" stroke="#000" stroke-width="1.20"/>
<line x1="258.15" y1="272.40" x2="258.15" y2="492.50" stroke="#a8a8a8" stroke-width="1.00"/>
<line x1="297.43" y1="272.40" x2="297.43" y2="492.50" stroke="#a8a8a8" stroke-width="1.00"/>
<line x1="61.75" y1="488.30" x2="336.70" y2="488.30" stroke="#a8a8a8" stroke-width="1"/>
<line x1="61.75" y1="440.30" x2="336.70" y2="440.30" stroke="#a8a8a8" stroke-width="1"/>
<line x1="61.75" y1="392.30" x2="336.70" y2="392.30" stroke="#a8a8a8" stroke-width="1"/>
<line x1="61.75" y1="344.30" x2="336.70" y2="344.30" stroke="#a8a8a8" stroke-width="1"/>
<line x1="61.75" y1="296.30" x2="336.70" y2="296.30" stroke="#a8a8a8" stroke-width="1"/>
<g clip-path="url(#cb)" fill="none" stroke-width="3.30" stroke-linecap="round" stroke-linejoin="round">
<path d="M61.8,487.6 L63.0,487.4 L64.2,487.2 L65.4,486.9 L66.6,486.7 L67.8,486.5 L69.0,486.3 L70.2,486.1 L71.4,485.9 L72.6,485.7 L73.8,485.5 L75.0,485.3 L76.2,485.1 L77.4,484.9 L78.6,484.8 L79.8,484.6 L81.0,484.4 L82.2,484.2 L83.4,484.1 L84.6,483.9 L85.8,483.7 L87.0,483.6 L88.2,483.4 L89.4,483.3 L90.6,483.1 L91.8,482.9 L93.0,482.8 L94.2,482.6 L95.4,482.5 L96.6,482.4 L97.8,482.2 L99.0,482.1 L100.2,481.9 L101.4,481.8 L102.6,481.6 L103.8,481.5 L105.0,481.4 L106.2,481.2 L107.4,481.1 L108.6,481.0 L109.8,480.8 L111.0,480.7 L112.2,480.6 L113.4,480.4 L114.6,480.3 L115.8,480.2 L117.0,480.1 L118.2,479.9 L119.4,479.8 L120.6,479.7 L121.8,479.6 L123.0,479.4 L124.2,479.3 L125.4,479.2 L126.6,479.1 L127.8,478.9 L129.0,478.8 L130.2,478.7 L131.4,478.6 L132.6,478.5 L133.8,478.3 L135.0,478.2 L136.2,478.1 L137.4,478.0 L138.6,477.9 L139.8,477.7 L141.0,477.6 L142.2,477.5 L143.4,477.4 L144.6,477.3 L145.8,477.1 L147.0,477.0 L148.2,476.9 L149.4,476.8 L150.6,476.7 L151.8,476.5 L153.0,476.4 L154.2,476.3 L155.4,476.2 L156.6,476.0 L157.8,475.9 L159.0,475.8 L160.2,475.6 L161.4,475.5 L162.6,475.4 L163.8,475.2 L165.0,475.1 L166.2,474.9 L167.4,474.8 L168.6,474.6 L169.8,474.5 L171.0,474.3 L172.2,474.1 L173.4,473.9 L174.6,473.7 L175.8,473.5 L177.0,473.3 L178.2,473.1 L179.4,472.9 L180.6,472.6 L181.8,472.3 L183.0,472.0 L184.2,471.7 L185.4,471.3 L186.6,470.9 L187.8,470.5 L189.0,470.0 L190.1,469.5 L191.2,469.0 L192.3,468.4 L193.4,467.8 L194.5,467.0 L195.5,466.3 L196.5,465.5 L197.5,464.7 L198.4,463.8 L199.3,462.9 L200.2,461.9 L201.0,460.9 L201.8,459.9 L202.5,458.9 L203.2,457.8 L203.9,456.7 L204.6,455.6 L205.2,454.5 L205.8,453.4 L206.4,452.2 L207.0,451.0 L207.6,449.7 L208.1,448.5 L208.6,447.4 L209.1,446.2 L209.6,444.9 L210.1,443.6 L210.6,442.2 L211.1,440.9 L211.5,439.7 L211.9,438.5 L212.3,437.3 L212.7,436.1 L213.1,434.8 L213.5,433.6 L213.9,432.2 L214.3,430.9 L214.7,429.5 L215.1,428.2 L215.5,426.8 L215.9,425.3 L216.3,423.9 L216.7,422.4 L217.1,420.9 L217.5,419.4 L217.9,417.9 L218.3,416.3 L218.7,414.8 L219.0,413.6 L219.3,412.5 L219.6,411.3 L219.9,410.1 L220.2,408.9 L220.5,407.7 L220.8,406.5 L221.1,405.3 L221.4,404.1 L221.7,402.9 L222.0,401.7 L222.3,400.5 L222.6,399.4 L222.9,398.2 L223.2,397.0 L223.5,395.8 L223.8,394.6 L224.1,393.5 L224.4,392.3 L224.8,390.8 L225.2,389.2 L225.6,387.7 L226.0,386.2 L226.4,384.7 L226.8,383.3 L227.2,381.8 L227.6,380.4 L228.0,379.0 L228.4,377.6 L228.8,376.3 L229.2,375.0 L229.6,373.7 L230.0,372.4 L230.4,371.1 L230.8,369.9 L231.2,368.7 L231.6,367.5 L232.0,366.3 L232.4,365.2 L232.9,363.8 L233.4,362.5 L233.9,361.2 L234.4,359.9 L234.9,358.7 L235.4,357.5 L235.9,356.3 L236.4,355.2 L237.0,353.9 L237.6,352.6 L238.2,351.4 L238.8,350.2 L239.4,349.1 L240.0,348.0 L240.6,347.0 L241.3,345.8 L242.0,344.7 L242.7,343.6 L243.4,342.6 L244.1,341.5 L244.9,340.4 L245.7,339.4 L246.5,338.4 L247.3,337.4 L248.1,336.5 L248.9,335.5 L249.8,334.6 L250.7,333.6 L251.6,332.7 L252.5,331.8 L253.4,330.9 L254.3,330.1 L255.2,329.3 L256.2,328.4 L257.2,327.6 L258.2,326.8 L259.2,326.0 L260.2,325.2 L261.2,324.5 L262.2,323.8 L263.2,323.1 L264.2,322.4 L265.3,321.7 L266.4,321.0 L267.5,320.3 L268.6,319.6 L269.7,319.0 L270.8,318.4 L271.9,317.8 L273.0,317.2 L274.1,316.7 L275.2,316.2 L276.3,315.7 L277.4,315.2 L278.6,314.7 L279.8,314.2 L281.0,313.7 L282.2,313.3 L283.4,312.8 L284.6,312.4 L285.8,312.0 L287.0,311.6 L288.2,311.3 L289.4,310.9 L290.6,310.6 L291.8,310.3 L293.0,310.0 L294.2,309.7 L295.4,309.4 L296.6,309.1 L297.8,308.8 L299.0,308.6 L300.2,308.3 L301.4,308.1 L302.6,307.9 L303.8,307.7 L305.0,307.5 L306.2,307.2 L307.4,307.0 L308.6,306.9 L309.8,306.7 L311.0,306.5 L312.2,306.3 L313.4,306.1 L314.6,306.0 L315.8,305.8 L317.0,305.6 L318.2,305.5 L319.4,305.3 L320.6,305.2 L321.8,305.0 L323.0,304.9 L324.2,304.8 L325.4,304.6 L326.6,304.5 L327.8,304.3 L329.0,304.2 L330.2,304.1 L331.4,303.9 L332.6,303.8 L333.8,303.7 L335.0,303.6 L336.2,303.4 L336.7,303.4" stroke="#000000"/>
<path d="M61.8,488.8 L63.0,488.6 L64.2,488.4 L65.4,488.1 L66.6,487.9 L67.8,487.7 L69.0,487.5 L70.2,487.3 L71.4,487.1 L72.6,486.9 L73.8,486.8 L75.0,486.6 L76.2,486.4 L77.4,486.2 L78.6,486.0 L79.8,485.9 L81.0,485.7 L82.2,485.5 L83.4,485.4 L84.6,485.2 L85.8,485.1 L87.0,484.9 L88.2,484.8 L89.4,484.6 L90.6,484.5 L91.8,484.3 L93.0,484.2 L94.2,484.0 L95.4,483.9 L96.6,483.8 L97.8,483.6 L99.0,483.5 L100.2,483.4 L101.4,483.3 L102.6,483.1 L103.8,483.0 L105.0,482.9 L106.2,482.8 L107.4,482.6 L108.6,482.5 L109.8,482.4 L111.0,482.3 L112.2,482.2 L113.4,482.1 L114.6,482.0 L115.8,481.9 L117.0,481.8 L118.2,481.7 L119.4,481.6 L120.6,481.5 L121.8,481.4 L123.0,481.3 L124.2,481.2 L125.4,481.1 L126.6,481.0 L127.8,480.9 L129.0,480.8 L130.2,480.7 L131.4,480.6 L132.6,480.5 L133.8,480.4 L135.0,480.3 L136.2,480.2 L137.4,480.1 L138.6,480.0 L139.8,480.0 L141.0,479.9 L142.2,479.8 L143.4,479.7 L144.6,479.6 L145.8,479.5 L147.0,479.4 L148.2,479.4 L149.4,479.3 L150.6,479.2 L151.8,479.1 L153.0,479.0 L154.2,478.9 L155.4,478.9 L156.6,478.8 L157.8,478.7 L159.0,478.6 L160.2,478.5 L161.4,478.4 L162.6,478.4 L163.8,478.3 L165.0,478.2 L166.2,478.1 L167.4,478.0 L168.6,477.9 L169.8,477.8 L171.0,477.8 L172.2,477.7 L173.4,477.6 L174.6,477.5 L175.8,477.4 L177.0,477.3 L178.2,477.2 L179.4,477.1 L180.6,477.0 L181.8,476.8 L183.0,476.7 L184.2,476.6 L185.4,476.5 L186.6,476.3 L187.8,476.2 L189.0,476.0 L190.2,475.9 L191.4,475.7 L192.6,475.5 L193.8,475.3 L195.0,475.1 L196.2,474.8 L197.4,474.5 L198.6,474.2 L199.8,473.9 L201.0,473.5 L202.2,473.1 L203.4,472.6 L204.5,472.1 L205.6,471.6 L206.7,471.0 L207.8,470.3 L208.8,469.7 L209.8,468.9 L210.8,468.1 L211.7,467.2 L212.6,466.3 L213.5,465.3 L214.3,464.3 L215.1,463.3 L215.8,462.3 L216.5,461.2 L217.2,460.0 L217.8,459.0 L218.4,457.9 L219.0,456.7 L219.6,455.5 L220.2,454.2 L220.7,453.0 L221.2,451.8 L221.7,450.6 L222.2,449.3 L222.7,447.9 L223.2,446.5 L223.6,445.3 L224.0,444.1 L224.4,442.9 L224.8,441.6 L225.2,440.3 L225.6,439.0 L226.0,437.6 L226.4,436.2 L226.8,434.7 L227.2,433.3 L227.6,431.8 L228.0,430.2 L228.3,429.1 L228.6,427.9 L228.9,426.7 L229.2,425.5 L229.5,424.3 L229.8,423.0 L230.1,421.8 L230.4,420.5 L230.7,419.3 L231.0,418.0 L231.3,416.7 L231.6,415.4 L231.9,414.1 L232.2,412.8 L232.5,411.5 L232.8,410.2 L233.1,408.8 L233.4,407.5 L233.7,406.2 L234.0,404.9 L234.3,403.5 L234.6,402.2 L234.9,400.9 L235.2,399.6 L235.5,398.3 L235.8,397.0 L236.1,395.7 L236.4,394.4 L236.7,393.1 L237.0,391.8 L237.3,390.6 L237.6,389.3 L237.9,388.1 L238.2,386.8 L238.5,385.6 L238.8,384.4 L239.1,383.2 L239.4,382.0 L239.7,380.8 L240.1,379.3 L240.5,377.8 L240.9,376.3 L241.3,374.9 L241.7,373.5 L242.1,372.1 L242.5,370.7 L242.9,369.4 L243.3,368.1 L243.7,366.8 L244.1,365.6 L244.5,364.4 L244.9,363.2 L245.3,362.1 L245.8,360.7 L246.3,359.3 L246.8,358.1 L247.3,356.8 L247.8,355.6 L248.3,354.4 L248.8,353.3 L249.4,352.0 L250.0,350.7 L250.6,349.5 L251.2,348.4 L251.8,347.3 L252.4,346.2 L253.1,345.0 L253.8,343.9 L254.5,342.8 L255.2,341.8 L255.9,340.8 L256.7,339.7 L257.5,338.6 L258.3,337.6 L259.1,336.7 L259.9,335.8 L260.8,334.8 L261.7,333.8 L262.6,332.9 L263.5,332.0 L264.4,331.1 L265.3,330.3 L266.2,329.5 L267.2,328.6 L268.2,327.8 L269.2,327.0 L270.2,326.2 L271.2,325.4 L272.2,324.7 L273.2,323.9 L274.2,323.2 L275.2,322.6 L276.3,321.8 L277.4,321.1 L278.5,320.4 L279.6,319.8 L280.7,319.2 L281.8,318.5 L282.9,317.9 L284.0,317.4 L285.1,316.8 L286.2,316.3 L287.3,315.8 L288.4,315.3 L289.6,314.7 L290.8,314.2 L292.0,313.8 L293.2,313.3 L294.4,312.9 L295.6,312.4 L296.8,312.0 L298.0,311.7 L299.2,311.3 L300.4,311.0 L301.6,310.6 L302.8,310.3 L304.0,310.0 L305.2,309.7 L306.4,309.4 L307.6,309.2 L308.8,308.9 L310.0,308.7 L311.2,308.5 L312.4,308.2 L313.6,308.0 L314.8,307.8 L316.0,307.6 L317.2,307.5 L318.4,307.3 L319.6,307.1 L320.8,307.0 L322.0,306.8 L323.2,306.7 L324.4,306.5 L325.6,306.4 L326.8,306.3 L328.0,306.1 L329.2,306.0 L330.4,305.9 L331.6,305.8 L332.8,305.7 L334.0,305.6 L335.2,305.5 L336.4,305.4 L336.7,305.3" stroke="#000000"/>
<path d="M61.8,480.3 L63.0,480.0 L64.2,479.8 L65.4,479.6 L66.6,479.3 L67.8,479.1 L69.0,478.9 L70.2,478.7 L71.4,478.4 L72.6,478.2 L73.8,478.0 L75.0,477.7 L76.2,477.5 L77.4,477.3 L78.6,477.1 L79.8,476.8 L81.0,476.6 L82.2,476.4 L83.4,476.2 L84.6,475.9 L85.8,475.7 L87.0,475.5 L88.2,475.3 L89.4,475.1 L90.6,474.8 L91.8,474.6 L93.0,474.4 L94.2,474.2 L95.4,474.0 L96.6,473.8 L97.8,473.5 L99.0,473.3 L100.2,473.1 L101.4,472.9 L102.6,472.7 L103.8,472.5 L105.0,472.2 L106.2,472.0 L107.4,471.8 L108.6,471.6 L109.8,471.4 L111.0,471.2 L112.2,471.0 L113.4,470.8 L114.6,470.5 L115.8,470.3 L117.0,470.1 L118.2,469.9 L119.4,469.7 L120.6,469.5 L121.8,469.3 L123.0,469.1 L124.2,468.9 L125.4,468.7 L126.6,468.5 L127.8,468.2 L129.0,468.0 L130.2,467.8 L131.4,467.6 L132.6,467.4 L133.8,467.2 L135.0,467.0 L136.2,466.8 L137.4,466.6 L138.6,466.4 L139.8,466.2 L141.0,466.0 L142.2,465.8 L143.4,465.6 L144.6,465.4 L145.8,465.1 L147.0,464.9 L148.2,464.7 L149.4,464.5 L150.6,464.3 L151.8,464.1 L153.0,463.9 L154.2,463.7 L155.4,463.5 L156.6,463.3 L157.8,463.0 L159.0,462.8 L160.2,462.6 L161.4,462.4 L162.6,462.2 L163.8,461.9 L165.0,461.7 L166.2,461.5 L167.4,461.2 L168.6,461.0 L169.8,460.8 L171.0,460.5 L172.2,460.2 L173.4,460.0 L174.6,459.7 L175.8,459.4 L177.0,459.1 L178.2,458.8 L179.4,458.5 L180.6,458.1 L181.8,457.7 L183.0,457.3 L184.2,456.9 L185.4,456.5 L186.6,456.0 L187.7,455.5 L188.8,454.9 L189.9,454.4 L191.0,453.7 L192.1,453.0 L193.1,452.3 L194.1,451.6 L195.1,450.7 L196.0,449.9 L196.9,449.0 L197.8,448.1 L198.6,447.1 L199.4,446.1 L200.2,445.0 L200.9,444.0 L201.6,442.9 L202.3,441.7 L202.9,440.6 L203.5,439.5 L204.1,438.3 L204.7,437.0 L205.3,435.7 L205.8,434.6 L206.3,433.4 L206.8,432.2 L207.3,430.9 L207.8,429.6 L208.3,428.3 L208.8,426.9 L209.2,425.7 L209.6,424.6 L210.0,423.4 L210.4,422.2 L210.8,420.9 L211.2,419.7 L211.6,418.4 L212.0,417.1 L212.4,415.8 L212.8,414.5 L213.2,413.2 L213.6,411.9 L214.0,410.5 L214.4,409.2 L214.8,407.8 L215.2,406.5 L215.6,405.1 L216.0,403.8 L216.4,402.4 L216.8,401.0 L217.2,399.7 L217.6,398.3 L218.0,397.0 L218.4,395.6 L218.8,394.3 L219.2,392.9 L219.6,391.6 L220.0,390.3 L220.4,389.0 L220.8,387.7 L221.2,386.4 L221.6,385.1 L222.0,383.8 L222.4,382.5 L222.8,381.3 L223.2,380.0 L223.6,378.8 L224.0,377.5 L224.4,376.3 L224.8,375.1 L225.2,373.9 L225.6,372.7 L226.0,371.5 L226.4,370.3 L226.8,369.1 L227.2,367.9 L227.6,366.8 L228.0,365.6 L228.4,364.5 L228.8,363.4 L229.3,361.9 L229.8,360.6 L230.3,359.2 L230.8,357.8 L231.3,356.5 L231.8,355.1 L232.3,353.8 L232.8,352.5 L233.3,351.2 L233.8,349.9 L234.3,348.7 L234.8,347.5 L235.3,346.2 L235.8,345.0 L236.3,343.9 L236.8,342.7 L237.3,341.5 L237.8,340.4 L238.3,339.3 L238.9,338.0 L239.5,336.7 L240.1,335.5 L240.7,334.3 L241.3,333.1 L241.9,331.9 L242.5,330.8 L243.1,329.7 L243.7,328.7 L244.4,327.5 L245.1,326.3 L245.8,325.2 L246.5,324.1 L247.2,323.1 L247.9,322.1 L248.7,321.0 L249.5,319.9 L250.3,318.9 L251.1,318.0 L251.9,317.1 L252.8,316.1 L253.7,315.2 L254.6,314.3 L255.5,313.5 L256.5,312.6 L257.5,311.8 L258.5,311.0 L259.5,310.3 L260.5,309.6 L261.6,308.9 L262.7,308.3 L263.8,307.7 L264.9,307.1 L266.0,306.6 L267.1,306.1 L268.3,305.5 L269.5,305.1 L270.7,304.6 L271.9,304.2 L273.1,303.8 L274.3,303.4 L275.5,303.0 L276.7,302.7 L277.9,302.3 L279.1,302.0 L280.3,301.7 L281.5,301.4 L282.7,301.2 L283.9,300.9 L285.1,300.6 L286.3,300.4 L287.5,300.1 L288.7,299.9 L289.9,299.7 L291.1,299.5 L292.3,299.2 L293.5,299.0 L294.7,298.8 L295.9,298.6 L297.1,298.4 L298.3,298.2 L299.5,298.0 L300.7,297.8 L301.9,297.6 L303.1,297.4 L304.3,297.2 L305.5,297.0 L306.7,296.8 L307.9,296.6 L309.1,296.4 L310.3,296.2 L311.5,296.0 L312.7,295.9 L313.9,295.7 L315.1,295.5 L316.3,295.3 L317.5,295.1 L318.7,294.9 L319.9,294.7 L321.1,294.6 L322.3,294.4 L323.5,294.2 L324.7,294.0 L325.9,293.8 L327.1,293.6 L328.3,293.5 L329.5,293.3 L330.7,293.1 L331.9,292.9 L333.1,292.7 L334.3,292.6 L335.5,292.4 L336.7,292.2" stroke="#ff0000"/>
<path d="M61.8,481.2 L63.0,481.0 L64.2,480.8 L65.4,480.6 L66.6,480.4 L67.8,480.2 L69.0,480.0 L70.2,479.8 L71.4,479.6 L72.6,479.4 L73.8,479.2 L75.0,479.0 L76.2,478.8 L77.4,478.6 L78.6,478.4 L79.8,478.2 L81.0,478.0 L82.2,477.8 L83.4,477.6 L84.6,477.4 L85.8,477.2 L87.0,477.0 L88.2,476.8 L89.4,476.6 L90.6,476.4 L91.8,476.2 L93.0,476.1 L94.2,475.9 L95.4,475.7 L96.6,475.5 L97.8,475.3 L99.0,475.1 L100.2,474.9 L101.4,474.7 L102.6,474.5 L103.8,474.3 L105.0,474.1 L106.2,473.9 L107.4,473.7 L108.6,473.5 L109.8,473.3 L111.0,473.1 L112.2,472.9 L113.4,472.7 L114.6,472.5 L115.8,472.3 L117.0,472.1 L118.2,471.9 L119.4,471.7 L120.6,471.6 L121.8,471.4 L123.0,471.2 L124.2,471.0 L125.4,470.8 L126.6,470.6 L127.8,470.4 L129.0,470.2 L130.2,470.0 L131.4,469.8 L132.6,469.6 L133.8,469.4 L135.0,469.2 L136.2,469.0 L137.4,468.8 L138.6,468.6 L139.8,468.4 L141.0,468.2 L142.2,468.0 L143.4,467.8 L144.6,467.6 L145.8,467.4 L147.0,467.2 L148.2,467.0 L149.4,466.8 L150.6,466.6 L151.8,466.4 L153.0,466.2 L154.2,466.0 L155.4,465.8 L156.6,465.6 L157.8,465.4 L159.0,465.2 L160.2,465.0 L161.4,464.8 L162.6,464.6 L163.8,464.3 L165.0,464.1 L166.2,463.9 L167.4,463.7 L168.6,463.4 L169.8,463.2 L171.0,462.9 L172.2,462.7 L173.4,462.4 L174.6,462.2 L175.8,461.9 L177.0,461.6 L178.2,461.3 L179.4,461.0 L180.6,460.7 L181.8,460.3 L183.0,460.0 L184.2,459.6 L185.4,459.2 L186.6,458.8 L187.8,458.4 L189.0,457.9 L190.2,457.4 L191.3,456.9 L192.4,456.4 L193.5,455.8 L194.6,455.2 L195.7,454.6 L196.8,453.9 L197.8,453.2 L198.8,452.5 L199.8,451.8 L200.8,450.9 L201.7,450.1 L202.6,449.3 L203.5,448.3 L204.3,447.4 L205.1,446.4 L205.8,445.4 L206.5,444.2 L207.1,443.1 L207.7,441.9 L208.2,440.7 L208.7,439.4 L209.1,438.3 L209.5,437.1 L209.9,435.8 L210.3,434.4 L210.7,433.0 L211.1,431.5 L211.5,430.0 L211.9,428.5 L212.3,427.0 L212.7,425.6 L213.1,424.2 L213.5,422.8 L213.9,421.5 L214.3,420.3 L214.7,419.1 L215.1,418.0 L215.6,416.6 L216.1,415.3 L216.6,414.0 L217.1,412.7 L217.6,411.4 L218.1,410.2 L218.6,408.9 L219.1,407.6 L219.6,406.3 L220.1,405.0 L220.6,403.7 L221.1,402.3 L221.6,401.0 L222.1,399.6 L222.6,398.2 L223.0,397.1 L223.4,395.9 L223.8,394.8 L224.2,393.6 L224.6,392.4 L225.0,391.2 L225.4,390.0 L225.8,388.8 L226.2,387.6 L226.6,386.3 L227.0,385.1 L227.4,383.9 L227.8,382.6 L228.2,381.4 L228.6,380.1 L229.0,378.8 L229.4,377.6 L229.8,376.3 L230.2,375.1 L230.6,373.8 L231.0,372.5 L231.4,371.3 L231.8,370.0 L232.2,368.7 L232.6,367.5 L233.0,366.2 L233.4,365.0 L233.8,363.7 L234.2,362.5 L234.6,361.3 L235.0,360.1 L235.4,358.9 L235.8,357.7 L236.2,356.5 L236.6,355.3 L237.0,354.2 L237.4,353.0 L237.8,351.9 L238.3,350.5 L238.8,349.1 L239.3,347.7 L239.8,346.4 L240.3,345.1 L240.8,343.8 L241.3,342.6 L241.8,341.3 L242.3,340.1 L242.8,339.0 L243.3,337.8 L243.8,336.7 L244.3,335.6 L244.9,334.3 L245.5,333.1 L246.1,331.8 L246.7,330.7 L247.3,329.6 L247.9,328.5 L248.5,327.4 L249.2,326.2 L249.9,325.1 L250.6,324.0 L251.3,323.0 L252.0,322.0 L252.8,320.9 L253.6,319.9 L254.4,318.9 L255.2,318.0 L256.1,317.0 L257.0,316.0 L257.9,315.2 L258.8,314.3 L259.8,313.5 L260.8,312.7 L261.8,311.9 L262.8,311.2 L263.9,310.5 L265.0,309.8 L266.1,309.2 L267.2,308.6 L268.3,308.0 L269.4,307.5 L270.5,307.0 L271.7,306.5 L272.9,306.1 L274.1,305.6 L275.3,305.2 L276.5,304.8 L277.7,304.5 L278.9,304.1 L280.1,303.8 L281.3,303.5 L282.5,303.2 L283.7,302.9 L284.9,302.6 L286.1,302.3 L287.3,302.1 L288.5,301.8 L289.7,301.5 L290.9,301.3 L292.1,301.1 L293.3,300.8 L294.5,300.6 L295.7,300.4 L296.9,300.1 L298.1,299.9 L299.3,299.7 L300.5,299.5 L301.7,299.3 L302.9,299.1 L304.1,298.9 L305.3,298.7 L306.5,298.5 L307.7,298.3 L308.9,298.1 L310.1,297.9 L311.3,297.7 L312.5,297.5 L313.7,297.3 L314.9,297.1 L316.1,296.9 L317.3,296.7 L318.5,296.5 L319.7,296.3 L320.9,296.1 L322.1,295.9 L323.3,295.7 L324.5,295.5 L325.7,295.3 L326.9,295.1 L328.1,294.9 L329.3,294.7 L330.5,294.5 L331.7,294.3 L332.9,294.1 L334.1,293.9 L335.3,293.7 L336.5,293.5 L336.7,293.5" stroke="#ff0000"/>
<path d="M61.8,470.3 L63.0,469.9 L64.2,469.5 L65.4,469.1 L66.6,468.7 L67.8,468.3 L69.0,468.0 L70.2,467.6 L71.4,467.2 L72.6,466.9 L73.8,466.6 L75.0,466.2 L76.2,465.9 L77.4,465.6 L78.6,465.3 L79.8,464.9 L81.0,464.6 L82.2,464.3 L83.4,464.1 L84.6,463.8 L85.8,463.5 L87.0,463.2 L88.2,462.9 L89.4,462.7 L90.6,462.4 L91.8,462.1 L93.0,461.9 L94.2,461.6 L95.4,461.4 L96.6,461.1 L97.8,460.9 L99.0,460.6 L100.2,460.4 L101.4,460.2 L102.6,459.9 L103.8,459.7 L105.0,459.5 L106.2,459.2 L107.4,459.0 L108.6,458.8 L109.8,458.6 L111.0,458.4 L112.2,458.2 L113.4,457.9 L114.6,457.7 L115.8,457.5 L117.0,457.3 L118.2,457.1 L119.4,456.9 L120.6,456.7 L121.8,456.4 L123.0,456.2 L124.2,456.0 L125.4,455.8 L126.6,455.6 L127.8,455.4 L129.0,455.1 L130.2,454.9 L131.4,454.7 L132.6,454.5 L133.8,454.2 L135.0,454.0 L136.2,453.7 L137.4,453.5 L138.6,453.2 L139.8,453.0 L141.0,452.7 L142.2,452.4 L143.4,452.2 L144.6,451.9 L145.8,451.6 L147.0,451.3 L148.2,450.9 L149.4,450.6 L150.6,450.3 L151.8,449.9 L153.0,449.5 L154.2,449.1 L155.4,448.7 L156.6,448.3 L157.8,447.9 L159.0,447.4 L160.2,446.9 L161.4,446.4 L162.5,445.9 L163.6,445.4 L164.7,444.9 L165.8,444.3 L166.9,443.7 L168.0,443.1 L169.1,442.5 L170.2,441.8 L171.3,441.1 L172.3,440.4 L173.3,439.7 L174.3,439.0 L175.3,438.3 L176.3,437.5 L177.3,436.6 L178.3,435.8 L179.2,435.0 L180.1,434.2 L181.0,433.3 L181.9,432.4 L182.8,431.5 L183.7,430.5 L184.6,429.5 L185.4,428.6 L186.2,427.6 L187.0,426.7 L187.8,425.6 L188.6,424.6 L189.4,423.5 L190.2,422.4 L190.9,421.4 L191.6,420.4 L192.3,419.3 L193.0,418.2 L193.7,417.1 L194.4,416.0 L195.1,414.8 L195.8,413.6 L196.4,412.5 L197.0,411.4 L197.6,410.3 L198.2,409.1 L198.8,408.0 L199.4,406.8 L200.0,405.6 L200.6,404.3 L201.2,403.0 L201.8,401.7 L202.3,400.6 L202.8,399.5 L203.3,398.4 L203.8,397.2 L204.3,396.0 L204.8,394.8 L205.3,393.6 L205.8,392.3 L206.3,391.1 L206.8,389.8 L207.3,388.5 L207.8,387.2 L208.3,385.8 L208.8,384.5 L209.3,383.1 L209.8,381.7 L210.3,380.3 L210.8,378.9 L211.2,377.8 L211.6,376.7 L212.0,375.5 L212.4,374.3 L212.8,373.2 L213.2,372.0 L213.6,370.8 L214.0,369.7 L214.4,368.5 L214.8,367.3 L215.2,366.1 L215.6,364.9 L216.0,363.8 L216.4,362.6 L216.8,361.4 L217.2,360.2 L217.6,359.0 L218.0,357.9 L218.4,356.7 L218.8,355.5 L219.2,354.4 L219.6,353.2 L220.0,352.1 L220.5,350.7 L221.0,349.3 L221.5,347.9 L222.0,346.5 L222.5,345.2 L223.0,343.9 L223.5,342.6 L224.0,341.3 L224.5,340.0 L225.0,338.8 L225.5,337.6 L226.0,336.4 L226.5,335.2 L227.0,334.1 L227.5,333.0 L228.1,331.6 L228.7,330.4 L229.3,329.1 L229.9,327.9 L230.5,326.8 L231.1,325.7 L231.7,324.6 L232.3,323.5 L233.0,322.3 L233.7,321.2 L234.4,320.1 L235.1,319.1 L235.8,318.0 L236.6,316.9 L237.4,315.9 L238.2,314.9 L239.0,313.9 L239.8,313.0 L240.7,312.0 L241.6,311.1 L242.5,310.2 L243.4,309.4 L244.4,308.5 L245.4,307.7 L246.4,306.9 L247.4,306.2 L248.4,305.5 L249.5,304.8 L250.6,304.1 L251.7,303.5 L252.8,302.9 L253.9,302.3 L255.0,301.8 L256.1,301.3 L257.3,300.7 L258.5,300.3 L259.7,299.8 L260.9,299.4 L262.1,299.0 L263.3,298.6 L264.5,298.2 L265.7,297.9 L266.9,297.6 L268.1,297.3 L269.3,297.0 L270.5,296.7 L271.7,296.4 L272.9,296.2 L274.1,296.0 L275.3,295.7 L276.5,295.5 L277.7,295.3 L278.9,295.1 L280.1,294.9 L281.3,294.8 L282.5,294.6 L283.7,294.4 L284.9,294.3 L286.1,294.1 L287.3,293.9 L288.5,293.8 L289.7,293.7 L290.9,293.5 L292.1,293.4 L293.3,293.3 L294.5,293.1 L295.7,293.0 L296.9,292.9 L298.1,292.8 L299.3,292.7 L300.5,292.6 L301.7,292.5 L302.9,292.4 L304.1,292.3 L305.3,292.2 L306.5,292.1 L307.7,292.0 L308.9,291.9 L310.1,291.8 L311.3,291.7 L312.5,291.6 L313.7,291.5 L314.9,291.4 L316.1,291.3 L317.3,291.2 L318.5,291.2 L319.7,291.1 L320.9,291.0 L322.1,290.9 L323.3,290.8 L324.5,290.7 L325.7,290.7 L326.9,290.6 L328.1,290.5 L329.3,290.4 L330.5,290.3 L331.7,290.2 L332.9,290.2 L334.1,290.1 L335.3,290.0 L336.5,289.9 L336.7,289.9" stroke="#0000ff"/>
<path d="M61.8,471.3 L63.0,471.0 L64.2,470.6 L65.4,470.3 L66.6,470.0 L67.8,469.7 L69.0,469.4 L70.2,469.1 L71.4,468.7 L72.6,468.4 L73.8,468.1 L75.0,467.9 L76.2,467.6 L77.4,467.3 L78.6,467.0 L79.8,466.7 L81.0,466.4 L82.2,466.2 L83.4,465.9 L84.6,465.6 L85.8,465.3 L87.0,465.1 L88.2,464.8 L89.4,464.6 L90.6,464.3 L91.8,464.1 L93.0,463.8 L94.2,463.6 L95.4,463.3 L96.6,463.1 L97.8,462.8 L99.0,462.6 L100.2,462.4 L101.4,462.1 L102.6,461.9 L103.8,461.7 L105.0,461.5 L106.2,461.2 L107.4,461.0 L108.6,460.8 L109.8,460.6 L111.0,460.4 L112.2,460.2 L113.4,459.9 L114.6,459.7 L115.8,459.5 L117.0,459.3 L118.2,459.1 L119.4,458.9 L120.6,458.7 L121.8,458.5 L123.0,458.3 L124.2,458.1 L125.4,457.9 L126.6,457.7 L127.8,457.5 L129.0,457.3 L130.2,457.1 L131.4,456.9 L132.6,456.7 L133.8,456.5 L135.0,456.3 L136.2,456.1 L137.4,455.8 L138.6,455.6 L139.8,455.4 L141.0,455.2 L142.2,455.0 L143.4,454.8 L144.6,454.6 L145.8,454.3 L147.0,454.1 L148.2,453.9 L149.4,453.6 L150.6,453.4 L151.8,453.1 L153.0,452.9 L154.2,452.6 L155.4,452.3 L156.6,452.0 L157.8,451.7 L159.0,451.4 L160.2,451.1 L161.4,450.8 L162.6,450.4 L163.8,450.0 L165.0,449.7 L166.2,449.2 L167.4,448.8 L168.6,448.3 L169.8,447.9 L171.0,447.3 L172.1,446.8 L173.2,446.3 L174.3,445.7 L175.4,445.1 L176.5,444.5 L177.6,443.8 L178.7,443.1 L179.7,442.4 L180.7,441.7 L181.7,440.9 L182.7,440.1 L183.7,439.3 L184.6,438.4 L185.5,437.6 L186.4,436.7 L187.3,435.8 L188.2,434.8 L189.0,433.8 L189.8,432.9 L190.6,431.9 L191.4,430.9 L192.2,429.8 L192.9,428.8 L193.6,427.8 L194.3,426.7 L195.0,425.6 L195.7,424.5 L196.4,423.3 L197.1,422.2 L197.7,421.1 L198.3,420.0 L198.9,418.9 L199.5,417.8 L200.1,416.6 L200.7,415.4 L201.3,414.2 L201.9,413.0 L202.5,411.7 L203.1,410.4 L203.6,409.3 L204.1,408.2 L204.6,407.1 L205.1,405.9 L205.6,404.7 L206.1,403.6 L206.6,402.4 L207.1,401.2 L207.6,399.9 L208.1,398.7 L208.6,397.4 L209.1,396.2 L209.6,394.9 L210.1,393.6 L210.6,392.3 L211.1,391.0 L211.6,389.7 L212.1,388.4 L212.6,387.1 L213.1,385.7 L213.6,384.4 L214.1,383.1 L214.6,381.7 L215.1,380.4 L215.6,379.0 L216.1,377.7 L216.6,376.3 L217.1,375.0 L217.6,373.6 L218.1,372.3 L218.5,371.1 L218.8,369.8 L219.1,367.9 L219.3,366.0 L219.5,364.0 L219.7,362.2 L219.9,360.9 L220.2,359.6 L220.6,358.3 L221.1,357.0 L221.6,355.7 L222.1,354.4 L222.6,353.1 L223.1,351.9 L223.6,350.6 L224.1,349.4 L224.6,348.2 L225.1,347.0 L225.6,345.8 L226.1,344.6 L226.6,343.5 L227.1,342.3 L227.6,341.2 L228.1,340.1 L228.6,339.0 L229.2,337.7 L229.8,336.4 L230.4,335.2 L231.0,334.0 L231.6,332.8 L232.2,331.7 L232.8,330.5 L233.4,329.4 L234.0,328.4 L234.6,327.3 L235.3,326.1 L236.0,325.0 L236.7,323.9 L237.4,322.8 L238.1,321.7 L238.8,320.7 L239.6,319.6 L240.4,318.6 L241.2,317.5 L242.0,316.6 L242.8,315.6 L243.6,314.7 L244.5,313.8 L245.4,312.8 L246.3,312.0 L247.2,311.1 L248.2,310.3 L249.2,309.4 L250.2,308.6 L251.2,307.9 L252.2,307.2 L253.3,306.5 L254.4,305.8 L255.5,305.2 L256.6,304.6 L257.7,304.0 L258.8,303.5 L259.9,303.0 L261.1,302.5 L262.3,302.0 L263.5,301.6 L264.7,301.1 L265.9,300.7 L267.1,300.4 L268.3,300.0 L269.5,299.7 L270.7,299.4 L271.9,299.1 L273.1,298.8 L274.3,298.6 L275.5,298.3 L276.7,298.1 L277.9,297.8 L279.1,297.6 L280.3,297.4 L281.5,297.2 L282.7,297.0 L283.9,296.8 L285.1,296.6 L286.3,296.5 L287.5,296.3 L288.7,296.1 L289.9,296.0 L291.1,295.8 L292.3,295.7 L293.5,295.5 L294.7,295.4 L295.9,295.2 L297.1,295.1 L298.3,295.0 L299.5,294.8 L300.7,294.7 L301.9,294.6 L303.1,294.4 L304.3,294.3 L305.5,294.2 L306.7,294.1 L307.9,293.9 L309.1,293.8 L310.3,293.7 L311.5,293.6 L312.7,293.5 L313.9,293.3 L315.1,293.2 L316.3,293.1 L317.5,293.0 L318.7,292.9 L319.9,292.8 L321.1,292.6 L322.3,292.5 L323.5,292.4 L324.7,292.3 L325.9,292.2 L327.1,292.1 L328.3,292.0 L329.5,291.9 L330.7,291.7 L331.9,291.6 L333.1,291.5 L334.3,291.4 L335.5,291.3 L336.7,291.2" stroke="#0000ff"/>
<path d="M61.8,462.2 L63.0,461.7 L64.2,461.2 L65.4,460.7 L66.6,460.3 L67.8,459.9 L69.0,459.4 L70.2,459.0 L71.4,458.6 L72.6,458.2 L73.8,457.9 L75.0,457.5 L76.2,457.2 L77.4,456.8 L78.6,456.5 L79.8,456.1 L81.0,455.8 L82.2,455.5 L83.4,455.2 L84.6,454.9 L85.8,454.6 L87.0,454.4 L88.2,454.1 L89.4,453.8 L90.6,453.5 L91.8,453.3 L93.0,453.0 L94.2,452.8 L95.4,452.5 L96.6,452.3 L97.8,452.0 L99.0,451.8 L100.2,451.5 L101.4,451.3 L102.6,451.1 L103.8,450.8 L105.0,450.6 L106.2,450.4 L107.4,450.1 L108.6,449.9 L109.8,449.7 L111.0,449.4 L112.2,449.2 L113.4,448.9 L114.6,448.7 L115.8,448.5 L117.0,448.2 L118.2,448.0 L119.4,447.7 L120.6,447.5 L121.8,447.2 L123.0,446.9 L124.2,446.7 L125.4,446.4 L126.6,446.1 L127.8,445.8 L129.0,445.5 L130.2,445.2 L131.4,444.9 L132.6,444.6 L133.8,444.3 L135.0,443.9 L136.2,443.5 L137.4,443.2 L138.6,442.8 L139.8,442.4 L141.0,442.0 L142.2,441.5 L143.4,441.1 L144.6,440.6 L145.8,440.1 L147.0,439.6 L148.1,439.1 L149.2,438.5 L150.3,438.0 L151.4,437.4 L152.5,436.8 L153.6,436.2 L154.7,435.6 L155.8,434.9 L156.9,434.2 L157.9,433.5 L158.9,432.8 L159.9,432.1 L160.9,431.3 L161.9,430.5 L162.9,429.7 L163.9,428.8 L164.8,428.0 L165.7,427.2 L166.6,426.3 L167.5,425.4 L168.4,424.5 L169.3,423.5 L170.2,422.5 L171.0,421.6 L171.8,420.7 L172.6,419.7 L173.4,418.7 L174.2,417.7 L175.0,416.7 L175.8,415.6 L176.6,414.5 L177.3,413.5 L178.0,412.5 L178.7,411.4 L179.4,410.4 L180.1,409.3 L180.8,408.2 L181.5,407.1 L182.2,405.9 L182.9,404.8 L183.6,403.6 L184.3,402.4 L184.9,401.3 L185.5,400.3 L186.1,399.2 L186.7,398.1 L187.3,397.0 L187.9,395.9 L188.5,394.7 L189.1,393.6 L189.7,392.4 L190.3,391.3 L190.9,390.1 L191.5,388.9 L192.1,387.7 L192.7,386.5 L193.3,385.3 L193.9,384.1 L194.5,382.9 L195.1,381.6 L195.7,380.4 L196.3,379.2 L196.9,377.9 L197.5,376.7 L198.1,375.4 L198.7,374.1 L199.3,372.9 L199.9,371.6 L200.5,370.4 L201.1,369.1 L201.7,367.9 L202.3,366.6 L202.9,365.4 L203.5,364.1 L204.1,362.9 L204.7,361.6 L205.3,360.4 L205.9,359.2 L206.5,358.0 L207.1,356.8 L207.7,355.6 L208.3,354.4 L208.9,353.2 L209.5,352.0 L210.1,350.9 L210.7,349.7 L211.3,348.6 L211.9,347.5 L212.5,346.4 L213.1,345.3 L213.7,344.2 L214.3,343.1 L214.9,342.1 L215.5,341.0 L216.2,339.9 L216.9,338.7 L217.6,337.5 L218.2,336.4 L218.8,335.3 L219.3,334.2 L219.8,332.8 L220.2,331.5 L220.6,330.0 L221.0,328.5 L221.4,327.1 L221.8,325.9 L222.3,324.7 L222.9,323.6 L223.6,322.5 L224.3,321.5 L225.1,320.4 L225.9,319.4 L226.7,318.4 L227.5,317.4 L228.3,316.5 L229.1,315.6 L230.0,314.6 L230.9,313.6 L231.8,312.7 L232.7,311.8 L233.6,311.0 L234.5,310.1 L235.4,309.3 L236.4,308.5 L237.4,307.6 L238.4,306.8 L239.4,306.1 L240.4,305.4 L241.4,304.7 L242.4,304.0 L243.5,303.3 L244.6,302.6 L245.7,301.9 L246.8,301.3 L247.9,300.7 L249.0,300.2 L250.1,299.6 L251.2,299.1 L252.3,298.6 L253.5,298.1 L254.7,297.6 L255.9,297.2 L257.1,296.7 L258.3,296.3 L259.5,295.9 L260.7,295.5 L261.9,295.1 L263.1,294.8 L264.3,294.4 L265.5,294.1 L266.7,293.8 L267.9,293.5 L269.1,293.2 L270.3,292.9 L271.5,292.6 L272.7,292.4 L273.9,292.1 L275.1,291.8 L276.3,291.6 L277.5,291.4 L278.7,291.1 L279.9,290.9 L281.1,290.7 L282.3,290.5 L283.5,290.3 L284.7,290.1 L285.9,289.9 L287.1,289.7 L288.3,289.5 L289.5,289.3 L290.7,289.1 L291.9,289.0 L293.1,288.8 L294.3,288.6 L295.5,288.4 L296.7,288.3 L297.9,288.1 L299.1,287.9 L300.3,287.8 L301.5,287.6 L302.7,287.5 L303.9,287.3 L305.1,287.1 L306.3,287.0 L307.5,286.8 L308.7,286.7 L309.9,286.5 L311.1,286.4 L312.3,286.2 L313.5,286.1 L314.7,285.9 L315.9,285.8 L317.1,285.6 L318.3,285.5 L319.5,285.4 L320.7,285.2 L321.9,285.1 L323.1,284.9 L324.3,284.8 L325.5,284.6 L326.7,284.5 L327.9,284.3 L329.1,284.2 L330.3,284.1 L331.5,283.9 L332.7,283.8 L333.9,283.6 L335.1,283.5 L336.3,283.4 L336.7,283.3" stroke="#008080"/>
<path d="M61.8,463.3 L63.0,462.8 L64.2,462.3 L65.4,461.9 L66.6,461.4 L67.8,461.0 L69.0,460.6 L70.2,460.2 L71.4,459.9 L72.6,459.5 L73.8,459.2 L75.0,458.9 L76.2,458.6 L77.4,458.3 L78.6,458.0 L79.8,457.7 L81.0,457.4 L82.2,457.2 L83.4,456.9 L84.6,456.7 L85.8,456.4 L87.0,456.2 L88.2,456.0 L89.4,455.7 L90.6,455.5 L91.8,455.3 L93.0,455.1 L94.2,454.9 L95.4,454.7 L96.6,454.4 L97.8,454.2 L99.0,454.0 L100.2,453.8 L101.4,453.6 L102.6,453.4 L103.8,453.2 L105.0,453.0 L106.2,452.8 L107.4,452.6 L108.6,452.4 L109.8,452.2 L111.0,452.0 L112.2,451.8 L113.4,451.6 L114.6,451.4 L115.8,451.2 L117.0,451.0 L118.2,450.8 L119.4,450.6 L120.6,450.4 L121.8,450.2 L123.0,450.0 L124.2,449.8 L125.4,449.5 L126.6,449.3 L127.8,449.1 L129.0,448.9 L130.2,448.6 L131.4,448.4 L132.6,448.1 L133.8,447.9 L135.0,447.6 L136.2,447.3 L137.4,447.1 L138.6,446.8 L139.8,446.5 L141.0,446.2 L142.2,445.9 L143.4,445.6 L144.6,445.2 L145.8,444.9 L147.0,444.5 L148.2,444.1 L149.4,443.7 L150.6,443.3 L151.8,442.9 L153.0,442.5 L154.2,442.0 L155.4,441.5 L156.6,441.0 L157.7,440.5 L158.8,440.0 L159.9,439.5 L161.0,439.0 L162.1,438.4 L163.2,437.8 L164.3,437.1 L165.4,436.5 L166.5,435.8 L167.6,435.1 L168.6,434.4 L169.6,433.7 L170.6,432.9 L171.6,432.1 L172.6,431.3 L173.6,430.5 L174.6,429.6 L175.5,428.8 L176.4,427.9 L177.3,427.1 L178.2,426.1 L179.1,425.2 L180.0,424.2 L180.8,423.3 L181.6,422.4 L182.4,421.4 L183.2,420.4 L184.0,419.4 L184.8,418.4 L185.6,417.3 L186.4,416.2 L187.1,415.2 L187.8,414.2 L188.5,413.1 L189.2,412.1 L189.9,411.0 L190.6,409.9 L191.3,408.8 L192.0,407.6 L192.7,406.5 L193.4,405.3 L194.1,404.1 L194.7,403.0 L195.3,401.9 L195.9,400.9 L196.5,399.8 L197.1,398.6 L197.7,397.5 L198.3,396.4 L198.9,395.2 L199.5,394.1 L200.1,392.9 L200.7,391.7 L201.3,390.5 L201.9,389.3 L202.5,388.1 L203.1,386.9 L203.7,385.6 L204.3,384.4 L204.9,383.1 L205.5,381.9 L206.1,380.6 L206.7,379.3 L207.3,378.0 L207.9,376.7 L208.5,375.4 L209.1,374.1 L209.6,373.0 L210.1,371.9 L210.6,370.8 L211.1,369.7 L211.6,368.6 L212.1,367.4 L212.6,366.3 L213.1,365.1 L213.6,364.0 L214.1,362.8 L214.6,361.6 L215.1,360.4 L215.6,359.2 L216.1,357.9 L216.6,356.7 L217.1,355.4 L217.6,354.2 L218.1,352.9 L218.6,351.6 L219.1,350.4 L219.6,349.1 L220.1,347.8 L220.6,346.5 L221.1,345.3 L221.6,344.0 L222.1,342.8 L222.6,341.6 L223.1,340.4 L223.6,339.3 L224.1,338.1 L224.6,337.0 L225.2,335.8 L225.8,334.5 L226.4,333.3 L227.0,332.2 L227.6,331.1 L228.2,330.0 L228.8,328.9 L229.5,327.8 L230.2,326.6 L230.9,325.5 L231.6,324.5 L232.3,323.5 L233.0,322.5 L233.8,321.4 L234.6,320.4 L235.4,319.3 L236.2,318.4 L237.0,317.4 L237.8,316.5 L238.7,315.5 L239.6,314.6 L240.5,313.6 L241.4,312.7 L242.3,311.9 L243.2,311.1 L244.1,310.3 L245.1,309.4 L246.1,308.6 L247.1,307.8 L248.1,307.1 L249.1,306.4 L250.1,305.7 L251.2,304.9 L252.3,304.3 L253.4,303.6 L254.5,303.0 L255.6,302.4 L256.7,301.8 L257.8,301.2 L258.9,300.7 L260.0,300.2 L261.1,299.7 L262.3,299.2 L263.5,298.7 L264.7,298.3 L265.9,297.8 L267.1,297.4 L268.3,297.0 L269.5,296.6 L270.7,296.2 L271.9,295.9 L273.1,295.5 L274.3,295.2 L275.5,294.9 L276.7,294.6 L277.9,294.3 L279.1,294.0 L280.3,293.7 L281.5,293.4 L282.7,293.1 L283.9,292.9 L285.1,292.6 L286.3,292.4 L287.5,292.1 L288.7,291.9 L289.9,291.7 L291.1,291.5 L292.3,291.2 L293.5,291.0 L294.7,290.8 L295.9,290.6 L297.1,290.4 L298.3,290.2 L299.5,290.0 L300.7,289.8 L301.9,289.6 L303.1,289.4 L304.3,289.2 L305.5,289.0 L306.7,288.8 L307.9,288.6 L309.1,288.5 L310.3,288.3 L311.5,288.1 L312.7,287.9 L313.9,287.7 L315.1,287.6 L316.3,287.4 L317.5,287.2 L318.7,287.0 L319.9,286.9 L321.1,286.7 L322.3,286.5 L323.5,286.3 L324.7,286.2 L325.9,286.0 L327.1,285.8 L328.3,285.7 L329.5,285.5 L330.7,285.3 L331.9,285.2 L333.1,285.0 L334.3,284.8 L335.5,284.7 L336.7,284.5" stroke="#008080"/>
</g>
<line x1="186.70" y1="389.00" x2="190.48" y2="381.71" stroke="#008080" stroke-width="2.20"/><polygon points="193.70,375.50 193.39,384.35 186.64,380.85" fill="#008080"/>
<line x1="197.30" y1="393.40" x2="190.66" y2="403.46" stroke="#008080" stroke-width="2.20"/><polygon points="186.80,409.30 188.04,400.53 194.38,404.72" fill="#008080"/>
<rect x="236.00" y="465.50" width="91.00" height="21.50" fill="#fff"/>
<text x="239.80" y="480.30" font-size="16.60" font-weight="bold" fill="#000">5 nm Al<tspan font-size="10.29" dy="4">2</tspan><tspan dy="-4">O</tspan><tspan font-size="10.29" dy="4">3</tspan></text>
<line x1="101.03" y1="492.50" x2="101.03" y2="488.50" stroke="#000" stroke-width="1"/>
<line x1="101.03" y1="272.40" x2="101.03" y2="276.40" stroke="#000" stroke-width="1"/>
<line x1="140.31" y1="492.50" x2="140.31" y2="488.50" stroke="#000" stroke-width="1"/>
<line x1="140.31" y1="272.40" x2="140.31" y2="276.40" stroke="#000" stroke-width="1"/>
<line x1="179.59" y1="492.50" x2="179.59" y2="488.50" stroke="#000" stroke-width="1"/>
<line x1="179.59" y1="272.40" x2="179.59" y2="276.40" stroke="#000" stroke-width="1"/>
<line x1="218.87" y1="492.50" x2="218.87" y2="488.50" stroke="#000" stroke-width="1"/>
<line x1="218.87" y1="272.40" x2="218.87" y2="276.40" stroke="#000" stroke-width="1"/>
<line x1="258.15" y1="492.50" x2="258.15" y2="488.50" stroke="#000" stroke-width="1"/>
<line x1="258.15" y1="272.40" x2="258.15" y2="276.40" stroke="#000" stroke-width="1"/>
<line x1="297.43" y1="492.50" x2="297.43" y2="488.50" stroke="#000" stroke-width="1"/>
<line x1="297.43" y1="272.40" x2="297.43" y2="276.40" stroke="#000" stroke-width="1"/>
<line x1="61.75" y1="492.50" x2="61.75" y2="488.50" stroke="#000" stroke-width="1"/>
<line x1="61.75" y1="272.40" x2="61.75" y2="276.40" stroke="#000" stroke-width="1"/>
<line x1="336.71" y1="492.50" x2="336.71" y2="488.50" stroke="#000" stroke-width="1"/>
<line x1="336.71" y1="272.40" x2="336.71" y2="276.40" stroke="#000" stroke-width="1"/>
<line x1="81.39" y1="492.50" x2="81.39" y2="490.00" stroke="#000" stroke-width="1"/>
<line x1="81.39" y1="272.40" x2="81.39" y2="274.90" stroke="#000" stroke-width="1"/>
<line x1="120.67" y1="492.50" x2="120.67" y2="490.00" stroke="#000" stroke-width="1"/>
<line x1="120.67" y1="272.40" x2="120.67" y2="274.90" stroke="#000" stroke-width="1"/>
<line x1="159.95" y1="492.50" x2="159.95" y2="490.00" stroke="#000" stroke-width="1"/>
<line x1="159.95" y1="272.40" x2="159.95" y2="274.90" stroke="#000" stroke-width="1"/>
<line x1="199.23" y1="492.50" x2="199.23" y2="490.00" stroke="#000" stroke-width="1"/>
<line x1="199.23" y1="272.40" x2="199.23" y2="274.90" stroke="#000" stroke-width="1"/>
<line x1="238.51" y1="492.50" x2="238.51" y2="490.00" stroke="#000" stroke-width="1"/>
<line x1="238.51" y1="272.40" x2="238.51" y2="274.90" stroke="#000" stroke-width="1"/>
<line x1="277.79" y1="492.50" x2="277.79" y2="490.00" stroke="#000" stroke-width="1"/>
<line x1="277.79" y1="272.40" x2="277.79" y2="274.90" stroke="#000" stroke-width="1"/>
<line x1="317.07" y1="492.50" x2="317.07" y2="490.00" stroke="#000" stroke-width="1"/>
<line x1="317.07" y1="272.40" x2="317.07" y2="274.90" stroke="#000" stroke-width="1"/>
<line x1="61.75" y1="488.30" x2="65.75" y2="488.30" stroke="#000" stroke-width="1"/>
<line x1="336.70" y1="488.30" x2="332.70" y2="488.30" stroke="#000" stroke-width="1"/>
<line x1="61.75" y1="440.30" x2="65.75" y2="440.30" stroke="#000" stroke-width="1"/>
<line x1="336.70" y1="440.30" x2="332.70" y2="440.30" stroke="#000" stroke-width="1"/>
<line x1="61.75" y1="392.30" x2="65.75" y2="392.30" stroke="#000" stroke-width="1"/>
<line x1="336.70" y1="392.30" x2="332.70" y2="392.30" stroke="#000" stroke-width="1"/>
<line x1="61.75" y1="344.30" x2="65.75" y2="344.30" stroke="#000" stroke-width="1"/>
<line x1="336.70" y1="344.30" x2="332.70" y2="344.30" stroke="#000" stroke-width="1"/>
<line x1="61.75" y1="296.30" x2="65.75" y2="296.30" stroke="#000" stroke-width="1"/>
<line x1="336.70" y1="296.30" x2="332.70" y2="296.30" stroke="#000" stroke-width="1"/>
<line x1="61.75" y1="464.30" x2="64.25" y2="464.30" stroke="#000" stroke-width="1"/>
<line x1="336.70" y1="464.30" x2="334.20" y2="464.30" stroke="#000" stroke-width="1"/>
<line x1="61.75" y1="416.30" x2="64.25" y2="416.30" stroke="#000" stroke-width="1"/>
<line x1="336.70" y1="416.30" x2="334.20" y2="416.30" stroke="#000" stroke-width="1"/>
<line x1="61.75" y1="368.30" x2="64.25" y2="368.30" stroke="#000" stroke-width="1"/>
<line x1="336.70" y1="368.30" x2="334.20" y2="368.30" stroke="#000" stroke-width="1"/>
<line x1="61.75" y1="320.30" x2="64.25" y2="320.30" stroke="#000" stroke-width="1"/>
<line x1="336.70" y1="320.30" x2="334.20" y2="320.30" stroke="#000" stroke-width="1"/>
<rect x="61.75" y="272.40" width="274.95" height="220.10" fill="none" stroke="#000" stroke-width="1.00"/>
<rect x="69.70" y="279.20" width="65.30" height="57.90" fill="#fff" stroke="#555" stroke-width="1"/>
<line x1="71.80" y1="287.90" x2="96.80" y2="287.90" stroke="#000000" stroke-width="3"/>
<text x="100.90" y="291.90" font-size="11.60" fill="#000">350°C</text>
<line x1="71.80" y1="301.60" x2="96.80" y2="301.60" stroke="#ff0000" stroke-width="3"/>
<text x="100.90" y="305.60" font-size="11.60" fill="#000">500°C</text>
<line x1="71.80" y1="315.30" x2="96.80" y2="315.30" stroke="#0000ff" stroke-width="3"/>
<text x="100.90" y="319.30" font-size="11.60" fill="#000">550°C</text>
<line x1="71.80" y1="329.20" x2="96.80" y2="329.20" stroke="#008080" stroke-width="3"/>
<text x="100.90" y="333.20" font-size="11.60" fill="#000">600°C</text>
<text x="61.75" y="504.80" font-size="9.20" text-anchor="middle" fill="#000">-4</text>
<text x="101.03" y="504.80" font-size="9.20" text-anchor="middle" fill="#000">-3</text>
<text x="140.31" y="504.80" font-size="9.20" text-anchor="middle" fill="#000">-2</text>
<text x="179.59" y="504.80" font-size="9.20" text-anchor="middle" fill="#000">-1</text>
<text x="218.87" y="504.80" font-size="9.20" text-anchor="middle" fill="#000">0</text>
<text x="258.15" y="504.80" font-size="9.20" text-anchor="middle" fill="#000">1</text>
<text x="297.43" y="504.80" font-size="9.20" text-anchor="middle" fill="#000">2</text>
<text x="336.71" y="504.80" font-size="9.20" text-anchor="middle" fill="#000">3</text>
<text x="58.30" y="491.70" font-size="9.20" text-anchor="end" fill="#000">2.0x10<tspan font-size="6.50" dy="-3.5">-7</tspan></text>
<text x="58.30" y="443.70" font-size="9.20" text-anchor="end" fill="#000">4.0x10<tspan font-size="6.50" dy="-3.5">-7</tspan></text>
<text x="58.30" y="395.70" font-size="9.20" text-anchor="end" fill="#000">6.0x10<tspan font-size="6.50" dy="-3.5">-7</tspan></text>
<text x="58.30" y="347.70" font-size="9.20" text-anchor="end" fill="#000">8.0x10<tspan font-size="6.50" dy="-3.5">-7</tspan></text>
<text x="58.30" y="299.70" font-size="9.20" text-anchor="end" fill="#000">1.0x10<tspan font-size="6.50" dy="-3.5">-6</tspan></text>
<text transform="translate(11.40,377.00) rotate(-90)" font-size="12.2" text-anchor="middle" fill="#000">Capacitance <tspan font-style="italic">C</tspan> [F/cm<tspan font-size="7.5" dy="-4">2</tspan><tspan dy="4">]</tspan></text>
<text x="199.60" y="522.60" font-size="11.5" text-anchor="middle" fill="#000">Bias <tspan font-style="italic">V</tspan> [V]</text>
<text x="17.50" y="528.00" font-size="17" font-weight="bold" style="font-family:'Liberation Serif',serif" fill="#000">(b)</text>
</svg></body></html>
